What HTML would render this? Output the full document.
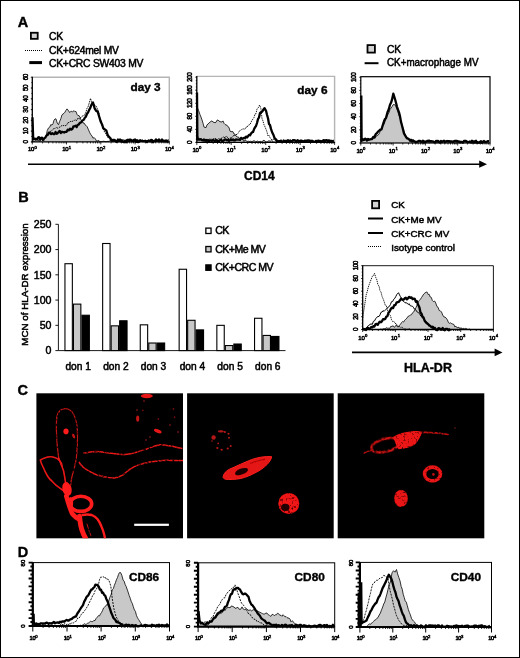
<!DOCTYPE html><html><head><meta charset="utf-8"><style>html,body{margin:0;padding:0;background:#fff;}svg{display:block;} text{stroke:#000;stroke-width:0.5px;} text[font-weight="bold"]{stroke-width:0.38px;}</style></head><body><svg width="520" height="658" viewBox="0 0 520 658" font-family="'Liberation Sans', Arial, sans-serif">
<rect x="0" y="0" width="520" height="658" fill="#fff"/>
<rect x="0.5" y="0.5" width="519" height="657" fill="none" stroke="#000" stroke-width="1"/>
<text x="17.7" y="27.4" font-size="14.5" font-weight="bold">A</text>
<text x="18.3" y="202" font-size="14.5" font-weight="bold">B</text>
<text x="17.4" y="395" font-size="14.5" font-weight="bold">C</text>
<text x="17.8" y="557.3" font-size="14.5" font-weight="bold">D</text>
<rect x="30.9" y="32.75" width="6.8" height="6.1" fill="#d2d2d2" stroke="#000" stroke-width="1.8"/>
<line x1="25" y1="50.5" x2="43" y2="50.5" stroke="#000" stroke-width="1" stroke-dasharray="1,1"/>
<line x1="29.3" y1="62.6" x2="42" y2="62.6" stroke="#000" stroke-width="3"/>
<text x="49" y="40.4" font-size="10.3" letter-spacing="-0.22">CK</text>
<text x="49" y="53.6" font-size="10.3" letter-spacing="-0.22">CK+624mel MV</text>
<text x="49" y="67.2" font-size="10.3" letter-spacing="-0.22">CK+CRC SW403 MV</text>
<rect x="367.5" y="45.1" width="7.4" height="7.5" fill="#d2d2d2" stroke="#000" stroke-width="1.8"/>
<line x1="364.6" y1="63.2" x2="378.5" y2="63.2" stroke="#000" stroke-width="2"/>
<text x="387" y="52.5" font-size="10.3" letter-spacing="-0.3">CK</text>
<text x="387" y="66.2" font-size="10.3" textLength="91.5" lengthAdjust="spacingAndGlyphs">CK+macrophage MV</text>
<polygon points="32.8,141.9 32.8,140.1 33.9,141.6 34.9,141.0 36.0,139.4 37.0,140.1 38.0,140.1 39.0,140.8 40.0,141.2 41.3,139.2 42.5,138.7 43.8,140.5 44.9,137.6 46.0,136.7 47.2,130.7 48.5,127.9 49.7,127.2 50.8,124.6 52.0,125.1 53.0,123.7 54.0,120.2 55.0,118.9 56.0,118.9 57.2,123.0 58.5,124.7 59.7,121.3 60.8,118.8 62.0,114.8 63.0,114.0 64.0,113.3 65.0,112.1 66.0,110.2 67.0,108.9 68.0,110.0 69.0,111.8 70.0,112.5 71.3,110.9 72.5,112.2 73.8,110.6 74.9,111.7 75.9,111.4 77.0,114.3 78.0,115.7 79.0,115.5 80.0,117.4 81.0,119.8 82.0,121.2 83.0,123.1 84.0,122.8 85.0,124.8 86.0,125.4 87.2,126.8 88.5,129.8 89.8,132.8 91.0,134.9 92.0,136.0 93.0,138.2 94.2,137.6 95.3,138.8 96.5,141.0 97.7,140.8 98.8,140.4 100.0,141.6 101.0,141.6 102.0,141.6 103.0,141.2 104.0,141.3 105.0,141.5 106.0,141.6 107.0,141.6 108.0,141.2 109.0,141.5 110.0,140.3 111.0,140.3 112.0,141.6 113.0,141.6 114.0,141.6 115.0,141.2 116.0,140.7 117.0,141.5 118.0,141.6 119.0,141.6 120.0,141.6 121.0,141.6 122.0,140.8 123.0,141.5 124.0,141.6 125.0,141.6 126.0,141.4 127.0,140.9 128.0,141.6 129.0,141.6 130.0,140.2 131.0,141.6 132.0,141.6 133.0,141.6 134.0,141.6 135.0,141.6 136.0,141.5 137.0,141.6 138.0,141.3 139.0,140.4 140.0,141.6 141.0,141.6 142.0,140.7 143.0,141.5 144.0,141.5 145.0,141.1 146.0,141.1 147.0,141.6 148.0,141.6 149.0,141.6 150.0,141.4 151.0,140.3 152.0,140.8 153.0,140.7 154.0,141.6 155.0,141.6 156.0,141.6 157.0,141.6 158.0,141.6 159.0,140.9 160.0,141.6 161.0,141.6 162.0,140.4 163.0,140.3 164.0,140.3 165.0,141.6 166.0,140.9 167.0,140.5 168.0,141.6 169.0,141.1 169.0,141.9" fill="#c8c8c8" stroke="none"/>
<polyline points="32.8,140.1 33.9,141.6 34.9,141.0 36.0,139.4 37.0,140.1 38.0,140.1 39.0,140.8 40.0,141.2 41.3,139.2 42.5,138.7 43.8,140.5 44.9,137.6 46.0,136.7 47.2,130.7 48.5,127.9 49.7,127.2 50.8,124.6 52.0,125.1 53.0,123.7 54.0,120.2 55.0,118.9 56.0,118.9 57.2,123.0 58.5,124.7 59.7,121.3 60.8,118.8 62.0,114.8 63.0,114.0 64.0,113.3 65.0,112.1 66.0,110.2 67.0,108.9 68.0,110.0 69.0,111.8 70.0,112.5 71.3,110.9 72.5,112.2 73.8,110.6 74.9,111.7 75.9,111.4 77.0,114.3 78.0,115.7 79.0,115.5 80.0,117.4 81.0,119.8 82.0,121.2 83.0,123.1 84.0,122.8 85.0,124.8 86.0,125.4 87.2,126.8 88.5,129.8 89.8,132.8 91.0,134.9 92.0,136.0 93.0,138.2 94.2,137.6 95.3,138.8 96.5,141.0 97.7,140.8 98.8,140.4 100.0,141.6 101.0,141.6 102.0,141.6 103.0,141.2 104.0,141.3 105.0,141.5 106.0,141.6 107.0,141.6 108.0,141.2 109.0,141.5 110.0,140.3 111.0,140.3 112.0,141.6 113.0,141.6 114.0,141.6 115.0,141.2 116.0,140.7 117.0,141.5 118.0,141.6 119.0,141.6 120.0,141.6 121.0,141.6 122.0,140.8 123.0,141.5 124.0,141.6 125.0,141.6 126.0,141.4 127.0,140.9 128.0,141.6 129.0,141.6 130.0,140.2 131.0,141.6 132.0,141.6 133.0,141.6 134.0,141.6 135.0,141.6 136.0,141.5 137.0,141.6 138.0,141.3 139.0,140.4 140.0,141.6 141.0,141.6 142.0,140.7 143.0,141.5 144.0,141.5 145.0,141.1 146.0,141.1 147.0,141.6 148.0,141.6 149.0,141.6 150.0,141.4 151.0,140.3 152.0,140.8 153.0,140.7 154.0,141.6 155.0,141.6 156.0,141.6 157.0,141.6 158.0,141.6 159.0,140.9 160.0,141.6 161.0,141.6 162.0,140.4 163.0,140.3 164.0,140.3 165.0,141.6 166.0,140.9 167.0,140.5 168.0,141.6 169.0,141.1" fill="none" stroke="#111" stroke-width="0.85"/>
<polyline points="32.8,126.0 33.5,140.0 34.8,138.3 36.0,138.6 37.0,139.9 38.0,139.3 39.0,138.8 40.0,137.6 41.0,138.5 42.0,138.7 43.0,138.9 44.0,138.2 45.0,137.3 46.0,135.8 47.0,134.5 48.0,133.1 49.0,132.8 50.0,131.6 51.0,131.1 52.0,130.5 53.0,129.2 54.0,128.4 55.0,128.7 56.0,127.6 57.0,127.5 58.0,128.4 59.0,127.3 60.0,127.1 61.0,126.2 62.0,125.4 63.0,125.9 64.0,125.2 65.0,125.4 66.0,125.8 67.0,124.4 68.0,122.3 69.0,122.9 70.0,121.7 71.0,121.3 72.0,121.5 73.0,121.0 74.0,120.8 75.0,119.7 76.0,120.7 77.0,120.2 78.0,118.0 79.0,119.0 80.0,118.5 81.0,117.1 82.0,116.5 83.0,115.6 84.0,115.8 85.0,114.0 86.0,112.1 87.0,108.3 88.0,106.9 89.2,103.1 90.5,98.4 92.0,103.2 93.0,104.6 94.0,104.8 95.0,105.0 96.0,106.0 97.0,107.9 98.0,110.4 99.0,113.3 100.0,118.9 101.0,121.0 102.0,125.9 103.0,127.1 104.0,131.0 105.0,132.5 106.0,134.0 107.0,136.0 108.0,137.5 109.0,138.5 110.0,139.1 111.0,139.0 112.0,139.9 113.0,141.1 114.0,140.6 115.0,139.5 116.0,141.2 117.0,141.0 118.0,141.4 119.0,139.8 120.0,141.1 121.0,139.5 122.0,140.9 123.0,140.0 124.0,139.9 125.0,141.4 126.0,139.7 127.0,140.6 128.0,141.4 129.0,140.0 130.0,139.9 131.0,141.4 132.0,140.4 133.0,141.1 134.0,139.6 135.0,140.3 136.0,139.9 137.0,141.0 138.0,139.7 139.0,141.7 140.0,139.6 141.0,141.2 142.0,139.6 143.0,140.1 144.0,141.4 145.0,139.9 146.0,140.0 147.0,141.1 148.0,140.4 149.0,139.7 150.0,141.8 151.0,139.9 152.0,139.7 153.0,140.4 154.0,141.0 155.0,141.3 156.0,139.9 157.0,140.4 158.0,139.7 159.0,140.6 160.0,141.3 161.0,141.3 162.0,141.7 163.0,141.3 164.0,141.6 165.0,141.2 166.0,140.7 167.0,140.2 168.0,141.2 169.0,140.4" fill="none" stroke="#000" stroke-width="0.9" stroke-linejoin="round" stroke-dasharray="1.6,0.8"/>
<polyline points="32.5,117.2 33.2,139.1 34.6,138.6 36.0,139.3 37.0,139.2 38.0,137.5 39.0,137.2 40.0,139.5 41.0,137.8 42.0,137.7 43.0,139.9 44.0,138.4 45.4,137.5 46.5,135.5 47.7,135.0 48.9,132.6 50.0,133.1 51.1,134.0 52.3,133.2 53.5,134.0 54.6,134.0 55.6,132.0 56.7,133.7 57.7,133.0 58.7,131.9 59.8,130.9 60.8,133.1 62.0,131.7 63.1,132.2 64.2,132.5 65.4,131.8 66.6,131.8 67.7,129.7 68.8,130.3 70.0,128.6 71.2,129.7 72.3,129.1 73.4,126.5 74.6,126.3 75.6,125.7 76.7,127.1 77.7,124.8 78.7,124.6 79.8,122.9 80.8,122.7 81.8,121.3 82.8,120.2 83.8,119.8 84.8,117.8 85.9,116.7 86.9,114.0 88.1,112.4 89.2,109.8 90.3,107.9 91.5,104.7 93.0,102.5 94.6,108.3 96.2,110.9 97.7,111.6 99.2,116.7 100.8,121.8 102.3,125.0 103.3,128.3 104.4,129.1 105.4,129.8 106.4,130.7 107.5,134.5 108.5,136.4 110.3,138.0 111.5,140.6 112.8,140.0 114.0,139.8 115.0,140.2 116.0,141.6 117.0,141.9 118.0,139.5 119.0,141.1 120.0,139.5 121.0,141.4 122.0,140.3 123.0,141.9 124.0,142.2 125.0,140.8 126.0,142.2 127.0,140.3 128.0,139.6 129.0,141.1 130.0,139.5 131.0,139.9 132.0,140.5 133.0,141.1 134.0,139.8 135.0,139.5 136.0,141.9 137.0,140.3 138.0,142.1 139.0,141.9 140.0,140.4 141.0,140.7 142.0,140.9 143.0,141.2 144.0,141.1 145.0,141.0 146.0,141.1 147.0,142.1 148.0,140.8 149.0,140.6 150.0,141.4 151.0,140.0 152.0,140.2 153.0,142.2 154.0,140.9 155.0,140.9 156.0,139.4 157.0,140.6 158.0,141.0 159.0,139.4 160.0,141.1 161.0,141.2 162.0,139.5 163.0,141.2 164.0,140.7 165.0,141.3 166.0,140.4 167.0,141.4 168.0,141.5 169.0,139.4" fill="none" stroke="#000" stroke-width="2.3" stroke-linejoin="round"/>
<path d="M32.3,77.2H169.3V141.9" stroke="#b4b4b4" stroke-width="1.4" fill="none"/>
<path d="M32.3,76.7V141.9H169.8" stroke="#000" stroke-width="1.3" fill="none"/>
<path d="M42.6,141.9v1.5M48.6,141.9v1.5M52.9,141.9v1.5M56.2,141.9v1.5M59.0,141.9v1.5M61.2,141.9v1.5M63.2,141.9v1.5M65.0,141.9v1.5M76.9,141.9v1.5M82.9,141.9v1.5M87.2,141.9v1.5M90.5,141.9v1.5M93.2,141.9v1.5M95.5,141.9v1.5M97.5,141.9v1.5M99.2,141.9v1.5M111.1,141.9v1.5M117.1,141.9v1.5M121.4,141.9v1.5M124.7,141.9v1.5M127.5,141.9v1.5M129.7,141.9v1.5M131.7,141.9v1.5M133.5,141.9v1.5M145.4,141.9v1.5M151.4,141.9v1.5M155.7,141.9v1.5M159.0,141.9v1.5M161.7,141.9v1.5M164.0,141.9v1.5M166.0,141.9v1.5M167.7,141.9v1.5M32.3,141.9v2.5M66.5,141.9v2.5M100.8,141.9v2.5M135.1,141.9v2.5M169.3,141.9v2.5" stroke="#000" stroke-width="0.8" fill="none"/>
<text x="31.0" y="151.2" font-size="6" text-anchor="middle" letter-spacing="-0.3">10</text><text x="34.6" y="148.6" font-size="4.2">0</text>
<text x="65.2" y="151.2" font-size="6" text-anchor="middle" letter-spacing="-0.3">10</text><text x="68.8" y="148.6" font-size="4.2">1</text>
<text x="99.5" y="151.2" font-size="6" text-anchor="middle" letter-spacing="-0.3">10</text><text x="103.1" y="148.6" font-size="4.2">2</text>
<text x="133.8" y="151.2" font-size="6" text-anchor="middle" letter-spacing="-0.3">10</text><text x="137.4" y="148.6" font-size="4.2">3</text>
<text x="168.0" y="151.2" font-size="6" text-anchor="middle" letter-spacing="-0.3">10</text><text x="171.6" y="148.6" font-size="4.2">4</text>
<text transform="translate(28.2,141.9) rotate(-90)" font-size="6.4" text-anchor="middle" letter-spacing="-0.45">0</text>
<text transform="translate(28.2,131.1) rotate(-90)" font-size="6.4" text-anchor="middle" letter-spacing="-0.45">10</text>
<text transform="translate(28.2,120.3) rotate(-90)" font-size="6.4" text-anchor="middle" letter-spacing="-0.45">20</text>
<text transform="translate(28.2,109.6) rotate(-90)" font-size="6.4" text-anchor="middle" letter-spacing="-0.45">30</text>
<text transform="translate(28.2,98.8) rotate(-90)" font-size="6.4" text-anchor="middle" letter-spacing="-0.45">40</text>
<text transform="translate(28.2,88.0) rotate(-90)" font-size="6.4" text-anchor="middle" letter-spacing="-0.45">50</text>
<text transform="translate(28.2,77.2) rotate(-90)" font-size="6.4" text-anchor="middle" letter-spacing="-0.45">60</text>
<path d="M30.8,141.9h1.5M30.8,131.1h1.5M30.8,120.3h1.5M30.8,109.6h1.5M30.8,98.8h1.5M30.8,88.0h1.5M30.8,77.2h1.5M31.3,141.9h1M31.3,136.5h1M31.3,131.1h1M31.3,125.7h1M31.3,120.3h1M31.3,114.9h1M31.3,109.6h1M31.3,104.2h1M31.3,98.8h1M31.3,93.4h1M31.3,88.0h1M31.3,82.6h1" stroke="#000" stroke-width="0.8" fill="none"/>
<text x="130.5" y="91.4" font-size="11.8" font-weight="bold">day 3</text>
<polygon points="197.2,142.4 197.2,107.3 198.6,110.5 200.0,114.7 201.0,117.1 202.0,119.9 203.0,123.2 204.0,127.1 205.0,127.3 206.0,127.7 207.0,124.8 208.0,124.1 209.0,122.9 210.0,122.2 211.0,121.3 212.0,120.9 213.0,122.1 214.0,122.3 215.0,122.8 216.0,122.3 217.0,120.2 218.0,120.0 219.0,121.1 220.0,121.6 221.0,121.9 222.0,122.0 223.0,120.9 224.0,123.3 225.0,124.4 226.0,125.0 227.0,125.2 228.0,126.9 229.0,127.4 230.0,131.1 231.0,131.7 232.0,131.6 233.0,131.7 234.0,134.0 235.0,134.2 236.0,136.0 237.0,136.9 238.0,137.0 239.0,137.5 240.0,138.8 241.0,139.1 242.0,139.1 243.0,139.9 244.0,141.6 245.0,140.0 246.0,140.3 247.0,141.8 248.0,140.9 249.0,141.6 250.0,141.4 251.0,141.1 252.0,142.0 253.0,140.7 254.0,141.3 255.0,140.8 256.0,141.9 257.0,141.0 258.0,141.2 259.0,142.0 260.0,141.1 261.0,141.7 262.0,142.0 263.0,140.5 264.0,140.4 265.0,140.9 266.0,142.0 267.0,141.9 268.0,140.9 269.0,141.1 270.0,140.8 271.0,141.5 272.0,140.4 273.0,142.0 274.0,142.0 275.0,142.0 276.0,142.0 277.0,142.0 278.0,140.4 279.0,141.1 280.0,142.0 281.0,142.0 282.0,141.4 283.0,142.0 284.0,141.9 285.0,142.0 286.0,141.1 287.0,140.8 288.0,141.5 289.0,140.7 290.0,141.3 291.0,142.0 292.0,141.2 293.0,140.4 294.0,140.5 295.0,140.8 296.0,142.0 297.0,141.3 298.0,141.1 299.0,140.6 300.0,142.0 301.0,141.5 302.0,140.9 303.0,140.6 304.0,140.6 305.0,140.9 306.0,142.0 307.0,140.8 308.0,140.5 309.0,141.7 310.0,141.1 311.0,142.0 312.0,140.8 313.0,141.8 314.0,142.0 315.0,141.5 316.0,142.0 317.0,141.7 318.0,141.1 319.0,141.5 320.0,140.6 321.0,141.6 322.0,141.1 323.0,142.0 324.0,142.0 325.0,141.8 326.0,140.6 327.0,141.1 328.0,141.1 329.0,141.0 330.0,141.1 331.0,142.0 332.0,140.9 333.0,140.6 334.0,142.0 334.0,142.4" fill="#c8c8c8" stroke="none"/>
<polyline points="197.2,107.3 198.6,110.5 200.0,114.7 201.0,117.1 202.0,119.9 203.0,123.2 204.0,127.1 205.0,127.3 206.0,127.7 207.0,124.8 208.0,124.1 209.0,122.9 210.0,122.2 211.0,121.3 212.0,120.9 213.0,122.1 214.0,122.3 215.0,122.8 216.0,122.3 217.0,120.2 218.0,120.0 219.0,121.1 220.0,121.6 221.0,121.9 222.0,122.0 223.0,120.9 224.0,123.3 225.0,124.4 226.0,125.0 227.0,125.2 228.0,126.9 229.0,127.4 230.0,131.1 231.0,131.7 232.0,131.6 233.0,131.7 234.0,134.0 235.0,134.2 236.0,136.0 237.0,136.9 238.0,137.0 239.0,137.5 240.0,138.8 241.0,139.1 242.0,139.1 243.0,139.9 244.0,141.6 245.0,140.0 246.0,140.3 247.0,141.8 248.0,140.9 249.0,141.6 250.0,141.4 251.0,141.1 252.0,142.0 253.0,140.7 254.0,141.3 255.0,140.8 256.0,141.9 257.0,141.0 258.0,141.2 259.0,142.0 260.0,141.1 261.0,141.7 262.0,142.0 263.0,140.5 264.0,140.4 265.0,140.9 266.0,142.0 267.0,141.9 268.0,140.9 269.0,141.1 270.0,140.8 271.0,141.5 272.0,140.4 273.0,142.0 274.0,142.0 275.0,142.0 276.0,142.0 277.0,142.0 278.0,140.4 279.0,141.1 280.0,142.0 281.0,142.0 282.0,141.4 283.0,142.0 284.0,141.9 285.0,142.0 286.0,141.1 287.0,140.8 288.0,141.5 289.0,140.7 290.0,141.3 291.0,142.0 292.0,141.2 293.0,140.4 294.0,140.5 295.0,140.8 296.0,142.0 297.0,141.3 298.0,141.1 299.0,140.6 300.0,142.0 301.0,141.5 302.0,140.9 303.0,140.6 304.0,140.6 305.0,140.9 306.0,142.0 307.0,140.8 308.0,140.5 309.0,141.7 310.0,141.1 311.0,142.0 312.0,140.8 313.0,141.8 314.0,142.0 315.0,141.5 316.0,142.0 317.0,141.7 318.0,141.1 319.0,141.5 320.0,140.6 321.0,141.6 322.0,141.1 323.0,142.0 324.0,142.0 325.0,141.8 326.0,140.6 327.0,141.1 328.0,141.1 329.0,141.0 330.0,141.1 331.0,142.0 332.0,140.9 333.0,140.6 334.0,142.0" fill="none" stroke="#111" stroke-width="0.85"/>
<polyline points="197.2,135.3 198.6,137.5 200.0,139.7 201.0,140.0 202.0,139.6 203.0,140.1 204.0,138.1 205.0,139.2 206.0,140.3 207.0,139.7 208.0,140.3 209.0,138.6 210.0,139.4 211.0,138.9 212.0,139.5 213.0,139.5 214.0,138.2 215.0,138.6 216.0,138.7 217.0,140.1 218.0,139.7 219.0,138.3 220.0,139.7 221.0,137.9 222.0,138.6 223.0,137.2 224.0,136.6 225.0,138.2 226.0,136.3 227.0,136.6 228.0,138.6 229.0,138.6 230.0,137.5 231.0,138.4 232.0,136.9 233.0,136.6 234.0,134.9 235.0,136.0 236.0,134.6 237.0,134.4 238.0,133.5 239.0,131.3 240.0,130.7 241.0,129.9 242.0,129.4 243.0,128.8 244.0,129.0 245.0,129.2 246.0,126.9 247.0,127.4 248.0,125.6 249.0,124.6 250.0,124.7 251.0,122.3 252.0,120.3 253.0,119.0 254.0,117.5 255.0,114.0 256.0,113.6 257.0,108.9 258.3,107.7 259.6,105.0 261.0,108.9 262.0,118.6 263.0,121.0 264.0,124.8 265.0,126.9 266.0,129.3 267.0,132.0 268.0,136.0 269.0,135.3 270.0,137.6 271.0,139.0 272.0,140.0 273.0,139.0 274.0,139.4 275.0,140.2 276.0,141.1 277.0,139.6 278.0,141.1 279.0,141.2 280.0,141.3 281.0,139.5 282.0,141.6 283.0,139.6 284.0,140.2 285.0,140.8 286.0,141.5 287.0,140.2 288.0,141.6 289.0,140.7 290.0,140.2 291.0,140.2 292.0,139.9 293.0,139.7 294.0,139.9 295.0,141.1 296.0,141.8 297.0,139.9 298.0,139.7 299.0,141.8 300.0,140.8 301.0,140.5 302.0,140.1 303.0,140.9 304.0,141.5 305.0,140.7 306.0,140.6 307.0,139.8 308.0,141.7 309.0,139.7 310.0,140.8 311.0,141.6 312.0,140.0 313.0,141.3 314.0,141.8 315.0,141.1 316.0,141.5 317.0,140.0 318.0,140.7 319.0,140.1 320.0,141.7 321.0,140.4 322.0,140.8 323.0,142.0 324.0,141.7 325.0,142.0 326.0,140.8 327.0,140.9 328.0,141.5 329.0,140.9 330.0,140.5 331.0,140.8 332.0,140.2 333.0,140.7 334.0,142.1" fill="none" stroke="#000" stroke-width="0.9" stroke-linejoin="round" stroke-dasharray="1.4,0.9"/>
<polyline points="197.0,92.6 197.4,139.6 198.7,139.5 200.0,139.5 201.0,139.1 202.0,140.4 203.0,140.1 204.0,140.7 205.0,140.0 206.0,140.8 207.0,139.9 208.0,141.0 209.0,140.9 210.0,140.3 211.0,140.6 212.0,140.8 213.0,139.9 214.0,140.6 215.0,141.1 216.0,140.0 217.0,141.1 218.0,140.9 219.0,141.2 220.0,140.2 221.0,139.7 222.0,141.0 223.0,140.9 224.0,140.2 225.0,139.5 226.0,139.6 227.0,140.4 228.0,139.7 229.0,140.9 230.0,140.2 231.0,139.3 232.0,140.1 233.0,139.4 234.0,140.4 235.0,140.3 236.0,139.4 237.0,139.6 238.0,139.6 239.0,139.7 240.0,139.9 241.0,137.9 242.0,138.3 243.0,138.6 244.0,137.8 245.0,138.2 246.0,136.6 247.0,137.5 248.0,136.2 249.0,134.9 250.0,135.3 251.0,133.6 252.0,132.4 253.0,132.0 254.0,129.3 255.0,127.4 256.0,126.0 257.0,123.0 258.0,119.1 259.0,117.5 260.0,113.1 261.0,112.2 262.0,111.8 263.2,110.0 264.5,108.1 266.0,110.8 267.0,114.8 268.0,118.3 269.0,124.0 270.0,125.1 271.0,128.9 272.2,132.5 273.4,134.8 274.7,138.4 276.0,139.5 277.0,141.2 278.0,141.3 279.0,141.1 280.0,141.7 281.0,140.9 282.0,141.6 283.0,141.6 284.0,141.0 285.0,140.9 286.0,141.4 287.0,140.8 288.0,140.2 289.0,141.5 290.0,140.6 291.0,141.0 292.0,141.5 293.0,140.4 294.0,140.1 295.0,140.3 296.0,141.2 297.0,140.7 298.0,140.5 299.0,140.9 300.0,141.8 301.0,140.5 302.0,140.8 303.0,141.7 304.0,141.2 305.0,140.6 306.0,141.0 307.0,141.0 308.0,140.3 309.0,140.8 310.0,140.6 311.0,141.6 312.0,140.7 313.0,141.3 314.0,141.9 315.0,141.8 316.0,140.8 317.0,141.2 318.0,140.7 319.0,140.8 320.0,141.0 321.0,141.6 322.0,141.8 323.0,140.6 324.0,140.1 325.0,140.9 326.0,140.1 327.0,140.1 328.0,141.5 329.0,140.3 330.0,141.4 331.0,140.7 332.0,141.8 333.0,141.7 334.0,140.2" fill="none" stroke="#000" stroke-width="2.3" stroke-linejoin="round"/>
<path d="M196.8,76.4H334.6V142.4" stroke="#b4b4b4" stroke-width="1.4" fill="none"/>
<path d="M196.8,75.9V142.4H335.1" stroke="#000" stroke-width="1.3" fill="none"/>
<path d="M207.2,142.4v1.5M213.2,142.4v1.5M217.5,142.4v1.5M220.9,142.4v1.5M223.6,142.4v1.5M225.9,142.4v1.5M227.9,142.4v1.5M229.7,142.4v1.5M241.6,142.4v1.5M247.7,142.4v1.5M252.0,142.4v1.5M255.3,142.4v1.5M258.1,142.4v1.5M260.4,142.4v1.5M262.4,142.4v1.5M264.1,142.4v1.5M276.1,142.4v1.5M282.1,142.4v1.5M286.4,142.4v1.5M289.8,142.4v1.5M292.5,142.4v1.5M294.8,142.4v1.5M296.8,142.4v1.5M298.6,142.4v1.5M310.5,142.4v1.5M316.6,142.4v1.5M320.9,142.4v1.5M324.2,142.4v1.5M327.0,142.4v1.5M329.3,142.4v1.5M331.3,142.4v1.5M333.0,142.4v1.5M196.8,142.4v2.5M231.2,142.4v2.5M265.7,142.4v2.5M300.2,142.4v2.5M334.6,142.4v2.5" stroke="#000" stroke-width="0.8" fill="none"/>
<text x="195.5" y="151.6" font-size="6" text-anchor="middle" letter-spacing="-0.3">10</text><text x="199.1" y="149.0" font-size="4.2">0</text>
<text x="229.9" y="151.6" font-size="6" text-anchor="middle" letter-spacing="-0.3">10</text><text x="233.6" y="149.0" font-size="4.2">1</text>
<text x="264.4" y="151.6" font-size="6" text-anchor="middle" letter-spacing="-0.3">10</text><text x="268.0" y="149.0" font-size="4.2">2</text>
<text x="298.9" y="151.6" font-size="6" text-anchor="middle" letter-spacing="-0.3">10</text><text x="302.5" y="149.0" font-size="4.2">3</text>
<text x="333.3" y="151.6" font-size="6" text-anchor="middle" letter-spacing="-0.3">10</text><text x="336.9" y="149.0" font-size="4.2">4</text>
<text transform="translate(192.2,142.4) rotate(-90)" font-size="6.4" text-anchor="middle" letter-spacing="-0.45">0</text>
<text transform="translate(192.2,129.4) rotate(-90)" font-size="6.4" text-anchor="middle" letter-spacing="-0.45">40</text>
<text transform="translate(192.2,116.3) rotate(-90)" font-size="6.4" text-anchor="middle" letter-spacing="-0.45">80</text>
<text transform="translate(192.2,103.3) rotate(-90)" font-size="6.4" text-anchor="middle" letter-spacing="-0.45">120</text>
<text transform="translate(192.2,90.2) rotate(-90)" font-size="6.4" text-anchor="middle" letter-spacing="-0.45">160</text>
<text transform="translate(192.2,77.2) rotate(-90)" font-size="6.4" text-anchor="middle" letter-spacing="-0.45">200</text>
<path d="M195.3,142.4h1.5M195.3,129.4h1.5M195.3,116.3h1.5M195.3,103.3h1.5M195.3,90.2h1.5M195.3,77.2h1.5M195.8,142.4h1M195.8,139.1h1M195.8,135.9h1M195.8,132.6h1M195.8,129.4h1M195.8,126.1h1M195.8,122.8h1M195.8,119.6h1M195.8,116.3h1M195.8,113.1h1M195.8,109.8h1M195.8,106.5h1M195.8,103.3h1M195.8,100.0h1M195.8,96.8h1M195.8,93.5h1M195.8,90.2h1M195.8,87.0h1M195.8,83.7h1M195.8,80.5h1" stroke="#000" stroke-width="0.8" fill="none"/>
<text x="297.3" y="93.6" font-size="11.8" font-weight="bold">day 6</text>
<polygon points="361.5,143.0 361.5,139.7 362.6,139.4 363.6,140.2 364.7,139.3 365.8,140.1 366.8,139.8 367.9,139.3 368.9,140.0 370.0,139.3 371.0,139.5 372.0,138.5 373.0,138.1 374.0,138.3 375.0,138.5 376.0,136.4 377.0,135.6 378.0,135.2 379.0,134.0 380.0,131.8 381.0,129.8 382.0,128.8 383.0,125.3 384.0,124.6 385.0,121.3 386.0,118.8 387.0,116.4 388.0,114.2 389.0,112.5 390.0,109.5 391.0,108.1 392.0,106.7 393.0,104.8 394.0,104.5 395.5,105.3 397.0,109.3 398.0,112.2 399.0,115.6 400.0,117.9 401.0,121.2 402.0,125.1 403.0,128.4 404.0,131.7 405.0,134.5 406.0,136.3 407.0,137.1 408.0,139.1 409.0,139.5 410.0,140.6 411.0,140.9 412.0,140.7 413.0,141.9 414.0,140.6 415.0,141.2 416.0,141.9 417.0,141.1 418.0,141.7 419.0,141.1 420.0,142.3 421.0,142.4 422.0,142.1 423.0,142.6 424.0,141.7 425.0,142.3 426.0,142.2 427.0,142.2 428.0,142.0 429.0,142.6 430.0,142.8 431.0,142.0 432.0,142.3 433.0,141.4 434.0,142.4 435.0,142.3 436.0,142.8 437.0,142.6 438.0,141.8 439.0,142.0 440.0,142.4 441.0,141.4 442.0,142.1 443.0,141.6 444.0,141.6 445.0,141.5 446.0,142.6 447.0,141.6 448.0,141.8 449.0,142.0 450.0,142.8 451.0,141.6 452.0,142.2 453.0,142.3 454.0,142.8 455.0,142.8 456.0,142.8 457.0,141.9 458.0,142.1 459.0,142.1 460.0,142.8 461.0,142.8 462.0,141.7 463.0,141.8 464.0,141.9 465.0,141.9 466.0,142.3 467.0,142.5 468.0,142.0 469.0,141.6 470.0,142.2 471.0,142.2 472.0,142.5 473.0,142.8 474.0,142.7 475.0,142.4 476.0,142.6 477.0,142.7 478.0,141.7 479.0,142.8 480.0,142.8 481.0,142.8 482.0,142.8 483.0,142.3 484.0,142.3 485.0,141.8 486.0,142.7 487.0,141.8 488.0,141.8 489.0,142.0 489.0,143.0" fill="#c8c8c8" stroke="none"/>
<polyline points="361.5,139.7 362.6,139.4 363.6,140.2 364.7,139.3 365.8,140.1 366.8,139.8 367.9,139.3 368.9,140.0 370.0,139.3 371.0,139.5 372.0,138.5 373.0,138.1 374.0,138.3 375.0,138.5 376.0,136.4 377.0,135.6 378.0,135.2 379.0,134.0 380.0,131.8 381.0,129.8 382.0,128.8 383.0,125.3 384.0,124.6 385.0,121.3 386.0,118.8 387.0,116.4 388.0,114.2 389.0,112.5 390.0,109.5 391.0,108.1 392.0,106.7 393.0,104.8 394.0,104.5 395.5,105.3 397.0,109.3 398.0,112.2 399.0,115.6 400.0,117.9 401.0,121.2 402.0,125.1 403.0,128.4 404.0,131.7 405.0,134.5 406.0,136.3 407.0,137.1 408.0,139.1 409.0,139.5 410.0,140.6 411.0,140.9 412.0,140.7 413.0,141.9 414.0,140.6 415.0,141.2 416.0,141.9 417.0,141.1 418.0,141.7 419.0,141.1 420.0,142.3 421.0,142.4 422.0,142.1 423.0,142.6 424.0,141.7 425.0,142.3 426.0,142.2 427.0,142.2 428.0,142.0 429.0,142.6 430.0,142.8 431.0,142.0 432.0,142.3 433.0,141.4 434.0,142.4 435.0,142.3 436.0,142.8 437.0,142.6 438.0,141.8 439.0,142.0 440.0,142.4 441.0,141.4 442.0,142.1 443.0,141.6 444.0,141.6 445.0,141.5 446.0,142.6 447.0,141.6 448.0,141.8 449.0,142.0 450.0,142.8 451.0,141.6 452.0,142.2 453.0,142.3 454.0,142.8 455.0,142.8 456.0,142.8 457.0,141.9 458.0,142.1 459.0,142.1 460.0,142.8 461.0,142.8 462.0,141.7 463.0,141.8 464.0,141.9 465.0,141.9 466.0,142.3 467.0,142.5 468.0,142.0 469.0,141.6 470.0,142.2 471.0,142.2 472.0,142.5 473.0,142.8 474.0,142.7 475.0,142.4 476.0,142.6 477.0,142.7 478.0,141.7 479.0,142.8 480.0,142.8 481.0,142.8 482.0,142.8 483.0,142.3 484.0,142.3 485.0,141.8 486.0,142.7 487.0,141.8 488.0,141.8 489.0,142.0" fill="none" stroke="#111" stroke-width="0.85"/>
<polyline points="361.3,95.5 361.6,140.9 362.7,139.1 363.9,140.1 365.0,138.7 366.0,139.0 367.0,140.5 368.0,138.9 369.0,139.8 370.0,139.4 371.0,139.2 372.0,139.0 373.3,137.0 374.6,136.8 375.7,134.2 376.9,133.2 378.0,131.6 379.2,130.7 380.3,129.7 381.5,129.3 382.8,125.0 384.0,121.3 385.0,119.0 386.0,117.9 387.5,112.2 388.8,109.2 390.0,104.8 391.0,102.8 392.0,99.7 393.3,93.7 395.0,99.0 396.0,102.8 397.0,106.8 398.0,109.7 399.0,112.3 400.0,116.2 401.0,121.9 402.0,125.5 403.0,129.4 404.0,133.4 405.0,135.2 406.0,136.8 407.0,138.4 408.0,138.6 409.0,139.2 410.0,140.7 411.0,139.8 412.0,141.5 413.0,140.3 414.0,141.5 415.0,141.6 416.0,142.1 417.0,142.0 418.0,141.4 419.0,140.9 420.0,140.8 421.0,141.6 422.0,141.5 423.0,140.7 424.0,142.3 425.0,141.5 426.0,141.9 427.0,141.0 428.0,141.0 429.0,140.6 430.0,141.2 431.0,141.1 432.0,141.4 433.0,141.3 434.0,142.2 435.0,142.3 436.0,140.9 437.0,141.4 438.0,140.9 439.0,141.9 440.0,142.5 441.0,141.0 442.0,142.1 443.0,141.2 444.0,140.7 445.0,142.1 446.0,141.3 447.0,141.0 448.0,141.5 449.0,141.1 450.0,141.5 451.0,141.5 452.0,141.5 453.0,141.8 454.0,141.2 455.0,140.9 456.0,140.9 457.0,140.9 458.0,141.7 459.0,141.4 460.0,142.3 461.0,141.7 462.0,142.1 463.0,142.6 464.0,140.9 465.0,140.8 466.0,141.0 467.0,141.5 468.0,141.9 469.0,142.2 470.0,141.4 471.0,142.6 472.0,140.8 473.0,142.4 474.0,141.2 475.0,142.5 476.0,140.8 477.0,142.6 478.0,142.3 479.0,142.7 480.0,141.9 481.0,141.1 482.0,142.7 483.0,141.7 484.0,141.0 485.0,142.0 486.0,141.8 487.0,141.7 488.0,141.1 489.0,141.1" fill="none" stroke="#000" stroke-width="2.3" stroke-linejoin="round"/>
<rect x="360.8" y="76.7" width="129.2" height="66.3" fill="none" stroke="#000" stroke-width="1.2"/>
<path d="M370.5,143v1.5M376.2,143v1.5M380.2,143v1.5M383.4,143v1.5M385.9,143v1.5M388.1,143v1.5M390.0,143v1.5M391.6,143v1.5M402.8,143v1.5M408.5,143v1.5M412.5,143v1.5M415.7,143v1.5M418.2,143v1.5M420.4,143v1.5M422.3,143v1.5M423.9,143v1.5M435.1,143v1.5M440.8,143v1.5M444.8,143v1.5M448.0,143v1.5M450.5,143v1.5M452.7,143v1.5M454.6,143v1.5M456.2,143v1.5M467.4,143v1.5M473.1,143v1.5M477.1,143v1.5M480.3,143v1.5M482.8,143v1.5M485.0,143v1.5M486.9,143v1.5M488.5,143v1.5M360.8,143v2.5M393.1,143v2.5M425.4,143v2.5M457.7,143v2.5M490.0,143v2.5" stroke="#000" stroke-width="0.8" fill="none"/>
<text x="359.5" y="152.5" font-size="6" text-anchor="middle" letter-spacing="-0.3">10</text><text x="363.1" y="149.9" font-size="4.2">0</text>
<text x="391.8" y="152.5" font-size="6" text-anchor="middle" letter-spacing="-0.3">10</text><text x="395.4" y="149.9" font-size="4.2">1</text>
<text x="424.1" y="152.5" font-size="6" text-anchor="middle" letter-spacing="-0.3">10</text><text x="427.7" y="149.9" font-size="4.2">2</text>
<text x="456.4" y="152.5" font-size="6" text-anchor="middle" letter-spacing="-0.3">10</text><text x="460.0" y="149.9" font-size="4.2">3</text>
<text x="488.7" y="152.5" font-size="6" text-anchor="middle" letter-spacing="-0.3">10</text><text x="492.3" y="149.9" font-size="4.2">4</text>
<text transform="translate(356.4,143.0) rotate(-90)" font-size="6.4" text-anchor="middle" letter-spacing="-0.45">0</text>
<text transform="translate(356.4,129.9) rotate(-90)" font-size="6.4" text-anchor="middle" letter-spacing="-0.45">20</text>
<text transform="translate(356.4,116.7) rotate(-90)" font-size="6.4" text-anchor="middle" letter-spacing="-0.45">40</text>
<text transform="translate(356.4,103.6) rotate(-90)" font-size="6.4" text-anchor="middle" letter-spacing="-0.45">60</text>
<text transform="translate(356.4,90.4) rotate(-90)" font-size="6.4" text-anchor="middle" letter-spacing="-0.45">80</text>
<text transform="translate(356.4,77.3) rotate(-90)" font-size="6.4" text-anchor="middle" letter-spacing="-0.45">100</text>
<path d="M359.3,143.0h1.5M359.3,129.9h1.5M359.3,116.7h1.5M359.3,103.6h1.5M359.3,90.4h1.5M359.3,77.3h1.5M359.8,143.0h1M359.8,139.7h1M359.8,136.4h1M359.8,133.1h1M359.8,129.9h1M359.8,126.6h1M359.8,123.3h1M359.8,120.0h1M359.8,116.7h1M359.8,113.4h1M359.8,110.2h1M359.8,106.9h1M359.8,103.6h1M359.8,100.3h1M359.8,97.0h1M359.8,93.7h1M359.8,90.4h1M359.8,87.2h1M359.8,83.9h1M359.8,80.6h1" stroke="#000" stroke-width="0.8" fill="none"/>
<line x1="28" y1="164.2" x2="481" y2="164.2" stroke="#000" stroke-width="1.6"/>
<polygon points="479.2,160.6 487,164.2 479.2,167.8" fill="#000"/>
<text x="244" y="179.8" font-size="12" font-weight="bold">CD14</text>
<path d="M58.4,224.3V350.6H285.5" stroke="#000" stroke-width="0.9" fill="none"/>
<path d="M55.4,350.60h3M55.4,325.34h3M55.4,300.08h3M55.4,274.82h3M55.4,249.56h3M55.4,224.30h3" stroke="#000" stroke-width="0.9"/>
<text x="51.5" y="354.4" font-size="10.6" text-anchor="end">0</text>
<text x="51.5" y="329.1" font-size="10.6" text-anchor="end">50</text>
<text x="51.5" y="303.9" font-size="10.6" text-anchor="end">100</text>
<text x="51.5" y="278.6" font-size="10.6" text-anchor="end">150</text>
<text x="51.5" y="253.4" font-size="10.6" text-anchor="end">200</text>
<text x="51.5" y="228.1" font-size="10.6" text-anchor="end">250</text>
<text transform="translate(27.8,284.5) rotate(-90)" font-size="9.8" text-anchor="middle">MCN of HLA-DR expression</text>
<rect x="64.95" y="263.71" width="7.40" height="86.89" fill="#fff" stroke="#000" stroke-width="1.1"/>
<rect x="73.45" y="304.12" width="7.40" height="46.48" fill="#c8c8c8" stroke="#000" stroke-width="1.1"/>
<rect x="81.95" y="315.24" width="7.40" height="35.36" fill="#000" stroke="#000" stroke-width="1.1"/>
<text x="78.2" y="369.6" font-size="10.2" text-anchor="middle">don 1</text>
<rect x="102.65" y="243.50" width="7.40" height="107.10" fill="#fff" stroke="#000" stroke-width="1.1"/>
<rect x="111.15" y="325.85" width="7.40" height="24.75" fill="#c8c8c8" stroke="#000" stroke-width="1.1"/>
<rect x="119.65" y="320.79" width="7.40" height="29.81" fill="#000" stroke="#000" stroke-width="1.1"/>
<text x="115.9" y="369.6" font-size="10.2" text-anchor="middle">don 2</text>
<rect x="140.25" y="324.83" width="7.40" height="25.77" fill="#fff" stroke="#000" stroke-width="1.1"/>
<rect x="148.75" y="343.02" width="7.40" height="7.58" fill="#c8c8c8" stroke="#000" stroke-width="1.1"/>
<rect x="157.25" y="343.02" width="7.40" height="7.58" fill="#000" stroke="#000" stroke-width="1.1"/>
<text x="153.5" y="369.6" font-size="10.2" text-anchor="middle">don 3</text>
<rect x="179.15" y="269.26" width="7.40" height="81.34" fill="#fff" stroke="#000" stroke-width="1.1"/>
<rect x="187.65" y="320.29" width="7.40" height="30.31" fill="#c8c8c8" stroke="#000" stroke-width="1.1"/>
<rect x="196.15" y="329.89" width="7.40" height="20.71" fill="#000" stroke="#000" stroke-width="1.1"/>
<text x="192.4" y="369.6" font-size="10.2" text-anchor="middle">don 4</text>
<rect x="216.85" y="325.34" width="7.40" height="25.26" fill="#fff" stroke="#000" stroke-width="1.1"/>
<rect x="225.35" y="345.55" width="7.40" height="5.05" fill="#c8c8c8" stroke="#000" stroke-width="1.1"/>
<rect x="233.85" y="344.03" width="7.40" height="6.57" fill="#000" stroke="#000" stroke-width="1.1"/>
<text x="230.1" y="369.6" font-size="10.2" text-anchor="middle">don 5</text>
<rect x="254.55" y="318.27" width="7.40" height="32.33" fill="#fff" stroke="#000" stroke-width="1.1"/>
<rect x="263.05" y="335.44" width="7.40" height="15.16" fill="#c8c8c8" stroke="#000" stroke-width="1.1"/>
<rect x="271.55" y="336.45" width="7.40" height="14.15" fill="#000" stroke="#000" stroke-width="1.1"/>
<text x="267.8" y="369.6" font-size="10.2" text-anchor="middle">don 6</text>
<rect x="205.85" y="228.1" width="5.2" height="5.4" fill="#fff" stroke="#000" stroke-width="1.3"/>
<text x="215.2" y="234.4" font-size="10.6" letter-spacing="-0.55">CK</text>
<rect x="205.85" y="246.5" width="5.2" height="5.4" fill="#c8c8c8" stroke="#000" stroke-width="1.3"/>
<text x="215.2" y="252.8" font-size="10.6" letter-spacing="-0.55">CK+Me MV</text>
<rect x="205.85" y="264.9" width="5.2" height="5.4" fill="#000" stroke="#000" stroke-width="1.3"/>
<text x="215.2" y="271.2" font-size="10.6" letter-spacing="-0.55">CK+CRC MV</text>
<rect x="372.1" y="200.9" width="7" height="7.4" fill="#d2d2d2" stroke="#000" stroke-width="1.8"/>
<line x1="368" y1="218.5" x2="383" y2="218.5" stroke="#000" stroke-width="2"/>
<line x1="368" y1="233" x2="383" y2="233" stroke="#000" stroke-width="2"/>
<line x1="368" y1="246.5" x2="382" y2="246.5" stroke="#000" stroke-width="1" stroke-dasharray="1,1"/>
<text x="391.2" y="207.6" font-size="9.8">CK</text>
<text x="391.2" y="222.5" font-size="9.8">CK+Me MV</text>
<text x="391.2" y="236.9" font-size="9.8">CK+CRC MV</text>
<text x="391.2" y="250.8" font-size="9.8">Isotype control</text>
<polygon points="380.0,329.5 380.0,329.1 381.0,329.2 382.1,329.4 383.1,328.8 384.1,328.8 385.2,328.8 386.2,327.7 387.4,328.2 388.5,328.2 389.7,328.4 390.8,326.3 392.0,326.5 393.1,325.7 394.2,327.3 395.2,326.7 396.3,324.8 397.4,326.9 398.5,326.6 399.5,325.1 400.5,324.4 401.6,322.5 402.6,321.5 403.6,322.1 404.6,320.3 405.8,319.3 406.9,318.1 408.1,316.3 409.2,316.1 410.4,314.9 411.5,314.7 412.6,312.7 413.8,311.9 414.8,309.5 415.9,307.8 416.9,305.3 418.1,301.7 419.4,300.5 420.4,299.2 421.5,297.6 422.5,296.0 423.7,294.1 425.0,292.9 426.2,292.1 427.2,292.2 428.2,294.6 429.2,294.3 430.2,297.0 431.3,297.4 432.3,300.4 433.4,301.6 434.6,301.0 435.8,303.1 436.9,306.5 438.0,307.2 439.2,310.5 440.4,310.9 441.5,312.0 442.7,315.0 443.9,316.9 445.0,317.1 446.2,318.1 447.4,319.9 448.5,322.7 449.6,323.3 450.8,322.8 451.8,323.8 452.8,324.0 453.9,324.5 454.9,327.0 455.9,326.1 456.9,327.7 457.9,327.6 459.0,327.2 460.0,328.9 461.0,327.6 462.1,329.2 463.1,328.1 464.2,328.9 465.4,328.4 466.6,328.6 467.7,329.4 468.9,329.4 470.0,328.8 470.0,329.5" fill="#c8c8c8" stroke="none"/>
<polyline points="380.0,329.1 381.0,329.2 382.1,329.4 383.1,328.8 384.1,328.8 385.2,328.8 386.2,327.7 387.4,328.2 388.5,328.2 389.7,328.4 390.8,326.3 392.0,326.5 393.1,325.7 394.2,327.3 395.2,326.7 396.3,324.8 397.4,326.9 398.5,326.6 399.5,325.1 400.5,324.4 401.6,322.5 402.6,321.5 403.6,322.1 404.6,320.3 405.8,319.3 406.9,318.1 408.1,316.3 409.2,316.1 410.4,314.9 411.5,314.7 412.6,312.7 413.8,311.9 414.8,309.5 415.9,307.8 416.9,305.3 418.1,301.7 419.4,300.5 420.4,299.2 421.5,297.6 422.5,296.0 423.7,294.1 425.0,292.9 426.2,292.1 427.2,292.2 428.2,294.6 429.2,294.3 430.2,297.0 431.3,297.4 432.3,300.4 433.4,301.6 434.6,301.0 435.8,303.1 436.9,306.5 438.0,307.2 439.2,310.5 440.4,310.9 441.5,312.0 442.7,315.0 443.9,316.9 445.0,317.1 446.2,318.1 447.4,319.9 448.5,322.7 449.6,323.3 450.8,322.8 451.8,323.8 452.8,324.0 453.9,324.5 454.9,327.0 455.9,326.1 456.9,327.7 457.9,327.6 459.0,327.2 460.0,328.9 461.0,327.6 462.1,329.2 463.1,328.1 464.2,328.9 465.4,328.4 466.6,328.6 467.7,329.4 468.9,329.4 470.0,328.8" fill="none" stroke="#111" stroke-width="0.85"/>
<polyline points="362.8,317.9 363.1,315.0 364.1,308.9 365.2,301.4 366.2,294.9 367.2,291.7 368.2,287.4 369.2,284.6 370.2,281.8 371.3,279.0 372.3,276.3 373.4,275.6 374.5,273.3 375.7,277.3 376.9,279.9 377.9,284.9 379.0,285.8 380.0,290.8 381.0,292.0 382.1,296.6 383.1,298.8 384.1,301.5 385.2,305.2 386.2,305.7 387.2,308.3 388.2,313.1 389.2,314.6 390.4,315.5 391.5,319.7 392.6,321.5 393.8,321.3 395.0,323.3 396.1,323.7 397.3,325.3 398.5,327.2 399.5,326.4 400.5,328.1 401.6,326.9 402.6,327.5 403.6,329.5 404.6,328.8 405.7,328.9 406.8,329.4 407.8,329.2 408.9,329.0 410.0,328.1" fill="none" stroke="#000" stroke-width="0.9" stroke-linejoin="round" stroke-dasharray="1.3,0.8"/>
<polyline points="363.0,328.4 364.2,328.9 365.4,328.4 366.5,328.3 367.7,326.1 368.9,325.4 370.0,324.4 371.1,323.9 372.3,324.4 373.4,321.3 374.6,320.8 375.8,318.5 376.9,317.2 377.9,316.5 379.0,316.5 380.0,314.9 381.0,312.3 382.1,312.0 383.1,310.6 384.1,311.4 385.1,310.3 386.1,309.2 387.2,308.3 388.2,307.0 389.2,306.6 390.4,304.6 391.5,301.7 392.6,301.6 393.8,299.2 394.8,298.3 395.9,296.3 396.9,294.4 398.5,292.7 399.5,294.9 400.5,296.7 401.5,298.2 402.7,300.8 403.9,301.5 405.0,302.8 406.2,302.8 407.2,303.2 408.2,304.5 409.2,303.7 410.3,305.8 411.3,306.0 412.3,306.1 413.3,307.2 414.4,309.0 415.4,309.4 416.4,310.9 417.5,312.3 418.5,312.8 419.6,313.7 420.8,316.1 422.0,317.0 423.1,318.5 424.2,319.6 425.4,321.2 426.6,321.6 427.7,324.2 428.9,325.9 430.0,325.4 431.1,327.1 432.3,328.6 433.5,326.7 434.6,327.3 435.8,329.4 437.0,329.9 438.0,329.4 439.0,328.2 440.0,328.9 441.0,330.0 442.0,330.1 443.0,329.9 444.0,328.4 445.0,330.1" fill="none" stroke="#000" stroke-width="1.0" stroke-linejoin="round"/>
<polyline points="363.0,328.2 364.0,329.6 365.1,329.4 366.1,330.0 367.1,328.1 368.2,328.0 369.2,329.1 370.2,328.4 371.3,327.0 372.3,327.4 373.3,326.2 374.4,326.6 375.4,324.4 376.5,323.9 377.7,324.9 378.9,322.7 380.0,321.7 381.0,322.3 382.1,321.1 383.1,319.1 384.1,319.4 385.2,318.9 386.2,316.8 387.4,316.2 388.5,312.9 389.6,311.5 390.8,308.9 391.9,307.7 393.1,308.1 394.2,305.1 395.4,305.1 396.5,302.6 397.7,302.1 398.9,301.8 400.0,300.3 401.1,298.7 402.3,299.7 403.5,299.7 404.6,298.4 405.8,297.8 406.9,299.4 408.1,298.1 409.2,296.9 410.4,297.8 411.5,297.4 412.6,299.1 413.8,298.6 414.8,298.8 415.9,301.9 416.9,301.2 418.1,304.8 419.4,307.3 420.4,312.2 421.5,313.6 422.5,316.7 423.6,317.7 424.6,320.7 425.8,322.4 426.9,323.2 428.1,324.1 429.2,325.4 430.4,326.0 431.5,327.2 432.6,326.7 433.8,328.4 435.0,328.0 436.1,329.8 437.3,330.1 438.5,328.1 439.5,328.3 440.6,329.7 441.6,329.4 442.7,328.0 443.7,329.7 444.8,330.3 445.8,329.0 446.9,328.8 447.9,329.4 449.0,330.3 450.0,328.6" fill="none" stroke="#000" stroke-width="2.3" stroke-linejoin="round"/>
<path d="M362.7,265.7H493.4V329.5" stroke="#000" stroke-width="0.9" fill="none"/>
<path d="M362.7,265.2V329.5H493.9" stroke="#000" stroke-width="1.3" fill="none"/>
<path d="M372.5,329.5v1.5M378.3,329.5v1.5M382.4,329.5v1.5M385.5,329.5v1.5M388.1,329.5v1.5M390.3,329.5v1.5M392.2,329.5v1.5M393.9,329.5v1.5M405.2,329.5v1.5M411.0,329.5v1.5M415.0,329.5v1.5M418.2,329.5v1.5M420.8,329.5v1.5M423.0,329.5v1.5M424.9,329.5v1.5M426.6,329.5v1.5M437.9,329.5v1.5M443.6,329.5v1.5M447.7,329.5v1.5M450.9,329.5v1.5M453.5,329.5v1.5M455.7,329.5v1.5M457.6,329.5v1.5M459.2,329.5v1.5M470.6,329.5v1.5M476.3,329.5v1.5M480.4,329.5v1.5M483.6,329.5v1.5M486.2,329.5v1.5M488.3,329.5v1.5M490.2,329.5v1.5M491.9,329.5v1.5M362.7,329.5v2.5M395.4,329.5v2.5M428.0,329.5v2.5M460.7,329.5v2.5M493.4,329.5v2.5" stroke="#000" stroke-width="0.8" fill="none"/>
<text x="361.4" y="340" font-size="6" text-anchor="middle" letter-spacing="-0.3">10</text><text x="365.0" y="337.4" font-size="4.2">0</text>
<text x="394.1" y="340" font-size="6" text-anchor="middle" letter-spacing="-0.3">10</text><text x="397.7" y="337.4" font-size="4.2">1</text>
<text x="426.7" y="340" font-size="6" text-anchor="middle" letter-spacing="-0.3">10</text><text x="430.3" y="337.4" font-size="4.2">2</text>
<text x="459.4" y="340" font-size="6" text-anchor="middle" letter-spacing="-0.3">10</text><text x="463.0" y="337.4" font-size="4.2">3</text>
<text x="492.1" y="340" font-size="6" text-anchor="middle" letter-spacing="-0.3">10</text><text x="495.7" y="337.4" font-size="4.2">4</text>
<text transform="translate(357.5,329.5) rotate(-90)" font-size="6.4" text-anchor="middle" letter-spacing="-0.45">0</text>
<text transform="translate(357.5,316.7) rotate(-90)" font-size="6.4" text-anchor="middle" letter-spacing="-0.45">20</text>
<text transform="translate(357.5,304.0) rotate(-90)" font-size="6.4" text-anchor="middle" letter-spacing="-0.45">40</text>
<text transform="translate(357.5,291.2) rotate(-90)" font-size="6.4" text-anchor="middle" letter-spacing="-0.45">60</text>
<text transform="translate(357.5,278.5) rotate(-90)" font-size="6.4" text-anchor="middle" letter-spacing="-0.45">80</text>
<text transform="translate(357.5,265.7) rotate(-90)" font-size="6.4" text-anchor="middle" letter-spacing="-0.45">100</text>
<path d="M361.2,329.5h1.5M361.2,316.7h1.5M361.2,304.0h1.5M361.2,291.2h1.5M361.2,278.5h1.5M361.2,265.7h1.5M361.7,329.5h1M361.7,326.3h1M361.7,323.1h1M361.7,319.9h1M361.7,316.7h1M361.7,313.6h1M361.7,310.4h1M361.7,307.2h1M361.7,304.0h1M361.7,300.8h1M361.7,297.6h1M361.7,294.4h1M361.7,291.2h1M361.7,288.0h1M361.7,284.8h1M361.7,281.6h1M361.7,278.5h1M361.7,275.3h1M361.7,272.1h1M361.7,268.9h1" stroke="#000" stroke-width="0.8" fill="none"/>
<line x1="352" y1="352.4" x2="496" y2="352.4" stroke="#000" stroke-width="1.6"/>
<polygon points="494.6,348.6 502.5,352.4 494.6,356.2" fill="#000"/>
<text x="404" y="372.2" font-size="12.5" font-weight="bold">HLA-DR</text>
<rect x="36.4" y="393.3" width="146.6" height="145.0" fill="#000"/>
<rect x="187.1" y="393.3" width="146.6" height="145.0" fill="#000"/>
<rect x="337.7" y="393.3" width="146.6" height="145.0" fill="#000"/>
<defs><filter id="gl" x="-20%" y="-20%" width="140%" height="140%"><feGaussianBlur stdDeviation="0.35"/></filter><filter id="sp" x="0" y="0" width="520" height="658" filterUnits="userSpaceOnUse"><feTurbulence type="fractalNoise" baseFrequency="0.45" numOctaves="1" seed="5" result="n"/><feColorMatrix in="n" type="matrix" values="0 0 0 0 0  0 0 0 0 0  0 0 0 0 0  0 0 0 -3.2 2.5" result="m"/><feComposite in="SourceGraphic" in2="m" operator="in" result="c"/><feGaussianBlur in="c" stdDeviation="0.3"/></filter><filter id="sp2" x="0" y="0" width="520" height="658" filterUnits="userSpaceOnUse"><feTurbulence type="fractalNoise" baseFrequency="0.5" numOctaves="1" seed="9" result="n"/><feColorMatrix in="n" type="matrix" values="0 0 0 0 0  0 0 0 0 0  0 0 0 0 0  0 0 0 -3 2.7" result="m"/><feComposite in="SourceGraphic" in2="m" operator="in"/></filter><clipPath id="c1"><rect x="36.4" y="393.3" width="146.6" height="145.0"/></clipPath><clipPath id="c2"><rect x="187.1" y="393.3" width="146.6" height="145.0"/></clipPath><clipPath id="c3"><rect x="337.7" y="393.3" width="146.6" height="145.0"/></clipPath></defs>
<g clip-path="url(#c1)" filter="url(#gl)">
<path d="M58.7,458 C57.8,452 57,444 56.6,436 C56.3,428 56.3,421 56.9,416.4 C58,412 61,409 65,408.7 C69,408.6 72,411 74,415 C76,419 77.3,426 77.5,433 C77.6,441 77.2,450 76.4,458.3 C75.4,464 73.6,471 72.1,476 C71.2,480 70.6,485 69.9,491.8" fill="none" stroke="#c01414" stroke-width="1.3" stroke-opacity="1" stroke-linecap="round" stroke-linejoin="round" filter="url(#sp)"/>
<path d="M58.7,458 C60,462 62,466 63.6,471 C64.6,476 65.2,480 65.6,483.2" fill="none" stroke="#e81818" stroke-width="1.6" stroke-opacity="1" stroke-linecap="round" stroke-linejoin="round"/>
<path d="M62,465.9 C61.5,463 60.5,461.5 59.8,460.8 C58,458.8 56,457.7 53,457 C50,456.3 47,457 44.7,457.9 C42.5,458.7 41,459.4 40.3,460.1 C41,462.5 42,465 43.2,467.3 C44.5,470.5 46,473.5 47.5,476 C49,478.5 50.5,480 51.9,481 C53.5,482.8 55,484.3 56.2,485.3 C58,486.8 59.8,488 61.2,489 C62.5,490 63.7,491 64.8,491.8" fill="none" stroke="#e81818" stroke-width="1.6" stroke-opacity="1" stroke-linecap="round" stroke-linejoin="round"/>
<path d="M84,452.9 C85,452.8 86,452.7 86.6,452.7 C90,452 93,451.6 96.5,451.6 C100,451.8 104,452.3 107.6,452.7 C113,453.4 119,454.5 125.3,454.5 C129,454.3 133,453.4 136.4,452.3 C140,451 144,449.8 147.4,448.7 C151,447.4 155,445.8 158.5,445 C161.5,444.6 164.5,445 167.3,445.6 C170.5,446.1 173.5,446.6 176.2,447.2 C178,447.6 180,448 183,448.4" fill="none" stroke="#e81818" stroke-width="1.5" stroke-opacity="1" stroke-linecap="round" stroke-linejoin="round" filter="url(#sp)"/>
<path d="M79.3,462.3 C79.5,462.8 79.8,463.3 80,463.8 C82,466.5 85,468.8 87.7,470.4 C90.5,472 93.5,473.6 96.5,474.8 C99.5,475.8 102.5,476.6 105.4,477 C108.5,477.5 111.5,478 114.2,478.1 C117.5,477.6 120.5,476.2 123.1,474.8 C125.5,473 127.5,471 129.7,469.3 C132.5,467.6 135.5,466 138.6,464.9 C142,463.6 146,462.7 149.6,462 C154,461.2 158.5,460.7 162.9,460.4 C167,460.3 172,460.4 176.2,460.4 C179,460.4 181.5,460.4 184,460.4" fill="none" stroke="#e81818" stroke-width="1.5" stroke-opacity="1" stroke-linecap="round" stroke-linejoin="round" filter="url(#sp)"/>
<ellipse cx="67" cy="489" rx="4.6" ry="7" fill="#ff1c1c" transform="rotate(-15 67 489)"/>
<path d="M66.3,496 C68,502 70,509 72.1,513.5 C74.5,516.5 77,518.5 79.3,519.2" fill="none" stroke="#ff1c1c" stroke-width="4.6" stroke-opacity="1" stroke-linecap="round" stroke-linejoin="round"/>
<ellipse cx="80.9" cy="503.8" rx="10.8" ry="7.6" fill="none" stroke="#ff1c1c" stroke-width="3.6"/>
<ellipse cx="70.6" cy="503" rx="2.6" ry="6" fill="#ff1c1c"/>
<path d="M79.5,516.3 C80,521 80.8,526.4 81.6,529 C82.6,532.5 84,535.5 86,539" fill="none" stroke="#ff1c1c" stroke-width="5" stroke-opacity="1" stroke-linecap="round" stroke-linejoin="round"/>
<path d="M82.6,515 C86,514.2 89,514.3 91.8,515 C94.3,516 96.3,517.5 97.6,519.2 C99.3,521.5 100.6,524 101.4,526.4 C102.5,529 103.4,531.5 104,533.7 C104.5,535.5 104.8,537 105,539" fill="none" stroke="#ff1c1c" stroke-width="2.4" stroke-opacity="1" stroke-linecap="round" stroke-linejoin="round"/>
<path d="M87,524 C88,528 89.5,532 91,536" fill="none" stroke="#c01414" stroke-width="1" stroke-opacity="1" stroke-linecap="round" stroke-linejoin="round" filter="url(#sp)"/>
<ellipse cx="66" cy="431.4" rx="2.6" ry="2.8" fill="#ff1c1c"/>
<ellipse cx="73.6" cy="436" rx="1.3" ry="2.6" fill="#c01414" transform="rotate(-25 73.6 436)"/>
<ellipse cx="146.8" cy="396" rx="6" ry="2.2" fill="#e81818"/>
<ellipse cx="137.7" cy="418.6" rx="1.6" ry="3.2" fill="#c01414"/>
<ellipse cx="157.8" cy="431.1" rx="4" ry="1.8" fill="#e81818" transform="rotate(20 157.8 431.1)"/>
<circle cx="137" cy="410" r="0.9" fill="#701010"/>
<circle cx="142.9" cy="410.3" r="0.9" fill="#701010"/>
<circle cx="173.4" cy="409" r="0.9" fill="#701010"/>
<circle cx="174.6" cy="417.2" r="0.9" fill="#701010"/>
<circle cx="158.4" cy="419" r="0.9" fill="#701010"/>
<circle cx="150" cy="437" r="0.9" fill="#701010"/>
<circle cx="146" cy="440" r="0.9" fill="#701010"/>
<circle cx="144" cy="401" r="0.9" fill="#701010"/>
<circle cx="170" cy="425" r="0.9" fill="#701010"/>
<circle cx="178" cy="432" r="0.9" fill="#701010"/>
</g>
<rect x="134.2" y="523.7" width="34.7" height="2.2" fill="#fff"/>
<g clip-path="url(#c2)" filter="url(#gl)">
<ellipse cx="220.8" cy="431.4" rx="3" ry="1.1" fill="#b41818"/>
<ellipse cx="224.8" cy="432" rx="1.2" ry="0.9" fill="#b41818"/>
<ellipse cx="228.5" cy="433.8" rx="1.1" ry="1" fill="#b41818"/>
<ellipse cx="229" cy="437.7" rx="1" ry="1" fill="#b41818"/>
<ellipse cx="230.7" cy="446" rx="1.1" ry="1.1" fill="#b41818"/>
<ellipse cx="227.7" cy="448.5" rx="1.1" ry="1" fill="#b41818"/>
<ellipse cx="221.6" cy="449.8" rx="1.2" ry="1" fill="#b41818"/>
<ellipse cx="217.3" cy="448.1" rx="1.2" ry="1" fill="#b41818"/>
<ellipse cx="213.6" cy="437.5" rx="2.2" ry="2.2" fill="#b41818"/>
<ellipse cx="218.2" cy="443.4" rx="0.9" ry="0.9" fill="#b41818"/>
<ellipse cx="212" cy="441" rx="0.8" ry="0.8" fill="#b41818"/>
<path d="M223.1,476.9 C224,472 228,469.5 233,467.7 C238,465.5 243,463 248.5,460.8 C252,459.3 256,458 260.8,457.2 C264.5,456.6 268,456.4 271.5,456.6 C271.8,458 270,461.5 267,464.6 C263.5,468 260,470.3 256.2,472.3 C251,475 246,477.3 240.8,478.5 C235,479.5 229,479.8 225.4,479.2 C223.8,478.8 223,478 223.1,476.9 Z" fill="#e41212" stroke="#ff2020" stroke-width="1"/>
<ellipse cx="241.5" cy="471.6" rx="6.8" ry="2.9" fill="#1a0000" transform="rotate(-20 241.5 471.6)"/>
<path d="M250,463.5 C255,461.5 260,460 265,459.3" stroke="#900000" stroke-width="0.7" fill="none"/>
<circle cx="288.8" cy="503.5" r="10.5" fill="#ee1212" filter="url(#sp2)"/>
<ellipse cx="285.3" cy="507.3" rx="4.2" ry="3.6" fill="#200000"/>
<circle cx="293" cy="498" r="1" fill="#700000"/>
<circle cx="281" cy="500" r="1" fill="#700000"/>
<circle cx="295" cy="507" r="1" fill="#700000"/>
<circle cx="289" cy="512" r="1" fill="#700000"/>
</g>
<g clip-path="url(#c3)" filter="url(#gl)">
<ellipse cx="385.5" cy="445.3" rx="14.5" ry="6.6" fill="none" stroke="#d81212" stroke-width="2.4" transform="rotate(-14 385.5 445.3)" filter="url(#sp)"/>
<path d="M393,437 C398,433.5 405,431.8 412,431.2 C416,431 420,431 422,432.3 C421,436 418.5,440.5 415,444.5 C410,447.5 404,449 398.5,449.3 C396,446 395,441 393,437 Z" fill="#ec1414" filter="url(#sp2)"/>
<path d="M421,432.5 C428,432.2 436,432.5 448,434.5" fill="none" stroke="#c01010" stroke-width="1.6" stroke-opacity="1" stroke-linecap="round" stroke-linejoin="round" filter="url(#sp)"/>
<path d="M364,453 C367,451.5 370,450.5 373,450" fill="none" stroke="#b01010" stroke-width="1.4" stroke-opacity="1" stroke-linecap="round" stroke-linejoin="round" filter="url(#sp)"/>
<circle cx="455" cy="428" r="0.8" fill="#701010"/>
<ellipse cx="432.5" cy="474" rx="8" ry="6.9" fill="none" stroke="#e81212" stroke-width="3.6" filter="url(#sp2)"/>
<circle cx="433.4" cy="474.4" r="1.3" fill="#c01010"/>
<ellipse cx="401" cy="498.4" rx="6.8" ry="8.6" fill="#e81212" filter="url(#sp2)"/>
</g>
<polygon points="80.0,626.0 80.0,625.0 81.2,625.6 82.3,625.2 83.4,624.5 84.6,623.7 85.6,624.4 86.6,624.1 87.7,623.2 88.7,622.9 89.7,622.0 90.7,621.2 91.8,621.6 92.8,621.7 93.8,620.4 95.0,620.6 96.2,618.3 97.3,617.2 98.5,615.6 99.5,615.9 100.5,613.9 101.5,612.6 102.5,610.6 103.6,607.9 104.6,607.0 105.6,606.3 106.7,604.5 107.7,605.1 108.8,600.9 109.8,597.4 111.0,594.9 112.3,589.7 113.3,588.7 114.4,585.2 115.4,582.8 116.4,579.8 117.5,577.5 118.5,574.4 119.5,572.6 120.6,572.6 121.8,575.2 123.1,580.1 124.1,581.1 125.2,584.6 126.2,586.6 127.7,590.9 129.2,595.5 130.2,598.2 131.3,601.6 132.3,603.5 133.3,606.7 134.4,610.0 135.4,611.3 136.4,615.3 137.5,617.8 138.5,619.4 139.5,620.9 140.5,622.6 141.5,624.0 142.5,625.6 143.6,624.8 144.6,624.5 145.7,624.7 146.8,625.8 147.8,625.8 148.9,625.7 150.0,625.8 150.0,626.0" fill="#c8c8c8" stroke="none"/>
<polyline points="80.0,625.0 81.2,625.6 82.3,625.2 83.4,624.5 84.6,623.7 85.6,624.4 86.6,624.1 87.7,623.2 88.7,622.9 89.7,622.0 90.7,621.2 91.8,621.6 92.8,621.7 93.8,620.4 95.0,620.6 96.2,618.3 97.3,617.2 98.5,615.6 99.5,615.9 100.5,613.9 101.5,612.6 102.5,610.6 103.6,607.9 104.6,607.0 105.6,606.3 106.7,604.5 107.7,605.1 108.8,600.9 109.8,597.4 111.0,594.9 112.3,589.7 113.3,588.7 114.4,585.2 115.4,582.8 116.4,579.8 117.5,577.5 118.5,574.4 119.5,572.6 120.6,572.6 121.8,575.2 123.1,580.1 124.1,581.1 125.2,584.6 126.2,586.6 127.7,590.9 129.2,595.5 130.2,598.2 131.3,601.6 132.3,603.5 133.3,606.7 134.4,610.0 135.4,611.3 136.4,615.3 137.5,617.8 138.5,619.4 139.5,620.9 140.5,622.6 141.5,624.0 142.5,625.6 143.6,624.8 144.6,624.5 145.7,624.7 146.8,625.8 147.8,625.8 148.9,625.7 150.0,625.8" fill="none" stroke="#111" stroke-width="0.85"/>
<polyline points="60.0,625.7 61.0,624.0 62.0,623.8 63.1,625.6 64.1,623.9 65.1,623.7 66.1,624.7 67.2,624.0 68.2,625.0 69.2,623.7 70.2,624.6 71.3,622.9 72.3,622.9 73.3,623.0 74.4,622.1 75.4,622.0 76.6,620.4 77.7,618.0 78.8,618.4 80.0,616.7 81.2,614.6 82.3,612.9 83.4,612.6 84.6,610.6 85.8,609.3 86.9,607.1 88.0,605.5 89.2,602.8 90.3,600.8 91.5,598.3 92.7,595.3 93.8,594.4 95.0,590.8 96.2,589.4 97.3,587.4 98.5,584.5 99.5,579.7 100.6,577.1 101.6,577.2 102.6,576.7 103.6,576.8 104.6,578.2 105.6,577.6 106.6,579.7 107.6,579.2 108.6,579.6 109.7,582.5 110.8,586.1 112.3,598.9 113.8,608.4 114.9,612.4 116.0,616.7 117.2,618.5 118.5,621.4 119.5,622.3 120.5,623.1 121.5,624.5 122.6,624.5 123.8,624.0 124.9,626.0 126.0,625.0 127.0,625.2 128.0,625.2 129.0,626.2 130.0,626.3 131.0,625.4 132.0,625.2 133.0,624.7 134.0,626.2 135.0,624.9" fill="none" stroke="#000" stroke-width="0.9" stroke-linejoin="round" stroke-dasharray="2,1.1"/>
<polyline points="33.6,613.8 33.8,622.1 35.4,625.0 36.5,623.4 37.6,624.3 38.7,624.0 39.8,624.1 40.9,623.3 42.0,623.4 43.1,623.8 44.2,623.3 45.3,623.7 46.4,622.7 47.5,622.8 48.6,623.9 49.7,623.2 50.8,623.3 51.8,623.6 52.8,622.7 53.9,622.0 54.9,623.3 55.9,622.7 56.9,622.7 58.0,622.5 59.0,623.0 60.0,621.7 61.1,622.3 62.2,621.3 63.3,621.5 64.4,621.5 65.5,620.6 66.6,619.9 67.7,620.5 68.7,620.5 69.7,619.8 70.8,619.1 71.8,619.1 72.8,617.8 73.8,617.4 74.8,616.7 75.9,616.6 76.9,614.4 77.9,612.7 79.0,611.2 80.0,609.5 81.0,607.9 82.1,606.4 83.1,604.8 84.1,601.8 85.2,599.9 86.2,597.7 87.2,596.2 88.2,595.6 89.2,593.6 90.2,591.5 91.3,589.6 92.3,589.3 93.3,588.0 94.4,587.0 95.4,584.7 96.5,584.8 97.5,585.0 98.8,586.7 100.0,589.7 101.0,589.7 102.1,592.8 103.1,592.6 104.1,594.9 105.2,595.7 106.2,598.7 107.7,601.6 109.0,605.9 110.2,609.4 111.2,612.8 112.3,615.1 113.3,617.7 114.4,618.9 115.4,619.9 116.4,622.1 117.5,622.0 118.5,622.7 119.7,623.0 120.8,624.2 121.9,624.1 123.1,626.0 124.2,626.1 125.4,624.8 126.5,624.6 127.7,625.5 128.8,624.8 130.0,625.6 131.0,626.1 132.0,625.0 133.0,625.3 134.0,626.3 135.0,625.4 136.0,625.2 137.0,626.3 138.0,626.1 139.0,626.3 140.0,625.9 141.0,625.3 142.0,625.9 143.0,626.1 144.0,625.8 145.0,625.0 146.0,625.1 147.0,625.3 148.0,626.0 149.0,625.6 150.0,625.6 151.0,626.1 152.0,624.7 153.0,625.8 154.0,625.2 155.0,625.6 156.0,626.1 157.0,625.0 158.0,626.4 159.0,624.7 160.0,625.6 161.0,625.6 162.0,625.0 163.0,625.6 164.0,625.4 165.0,625.4 166.0,625.9 167.0,624.5 168.0,625.3 169.0,626.0" fill="none" stroke="#000" stroke-width="2.3" stroke-linejoin="round"/>
<rect x="32.8" y="562.6" width="136.7" height="63.39999999999998" fill="none" stroke="#000" stroke-width="1"/>
<path d="M32.8,562.6V626.0H169.5" stroke="#000" stroke-width="2.2" fill="none"/>
<path d="M28.6,626.00h4.2M28.6,618.08h4.2M28.6,610.15h4.2M28.6,602.23h4.2M28.6,594.30h4.2M28.6,586.38h4.2M28.6,578.45h4.2M28.6,570.52h4.2M28.6,562.60h4.2M30.4,622.04h2.4M30.4,614.11h2.4M30.4,606.19h2.4M30.4,598.26h2.4M30.4,590.34h2.4M30.4,582.41h2.4M30.4,574.49h2.4M30.4,566.56h2.4" stroke="#000" stroke-width="1.9"/>
<path d="M43.1,626.0v1.8M49.1,626.0v1.8M53.4,626.0v1.8M56.7,626.0v1.8M59.4,626.0v1.8M61.7,626.0v1.8M63.7,626.0v1.8M65.4,626.0v1.8M77.3,626.0v1.8M83.3,626.0v1.8M87.6,626.0v1.8M90.9,626.0v1.8M93.6,626.0v1.8M95.9,626.0v1.8M97.8,626.0v1.8M99.6,626.0v1.8M111.4,626.0v1.8M117.5,626.0v1.8M121.7,626.0v1.8M125.0,626.0v1.8M127.7,626.0v1.8M130.0,626.0v1.8M132.0,626.0v1.8M133.8,626.0v1.8M145.6,626.0v1.8M151.6,626.0v1.8M155.9,626.0v1.8M159.2,626.0v1.8M161.9,626.0v1.8M164.2,626.0v1.8M166.2,626.0v1.8M167.9,626.0v1.8M32.8,626.0v5.5M67.0,626.0v5.5M101.1,626.0v5.5M135.3,626.0v5.5M169.5,626.0v5.5" stroke="#000" stroke-width="1"/>
<text x="32.4" y="640.1" font-size="5.6" text-anchor="middle" letter-spacing="-0.3">10</text><text x="35.2" y="637.5" font-size="4.2">0</text>
<text x="66.6" y="640.1" font-size="5.6" text-anchor="middle" letter-spacing="-0.3">10</text><text x="69.4" y="637.5" font-size="4.2">1</text>
<text x="100.7" y="640.1" font-size="5.6" text-anchor="middle" letter-spacing="-0.3">10</text><text x="103.5" y="637.5" font-size="4.2">2</text>
<text x="134.9" y="640.1" font-size="5.6" text-anchor="middle" letter-spacing="-0.3">10</text><text x="137.7" y="637.5" font-size="4.2">3</text>
<text x="169.1" y="640.1" font-size="5.6" text-anchor="middle" letter-spacing="-0.3">10</text><text x="171.9" y="637.5" font-size="4.2">4</text>
<text transform="translate(24.6,563.1) rotate(-90)" font-size="6" text-anchor="middle">80</text>
<text transform="translate(24.6,626.0) rotate(-90)" font-size="6" text-anchor="middle">0</text>
<text x="129.0" y="580.5" font-size="11.8" font-weight="bold">CD86</text>
<polygon points="205.0,626.6 205.0,624.9 206.0,624.9 207.0,625.3 208.0,625.0 209.0,622.9 210.0,622.0 211.0,621.4 212.2,621.4 213.4,618.9 214.6,619.0 215.7,617.7 216.9,615.4 218.0,615.1 219.4,613.9 220.8,612.8 221.9,613.1 222.9,610.1 224.0,608.9 225.0,610.5 226.0,608.8 227.0,607.8 228.0,607.6 229.0,607.2 230.0,608.0 231.0,606.2 232.0,606.0 233.0,606.7 234.0,606.9 235.0,608.2 236.0,608.3 237.1,607.5 238.1,607.5 239.2,609.3 240.6,609.3 242.0,606.9 243.1,608.9 244.3,609.6 245.4,609.5 246.7,608.7 248.0,610.2 249.2,610.4 250.3,609.7 251.5,611.1 252.8,610.0 254.0,609.5 255.2,610.5 256.5,610.8 257.7,611.3 258.9,611.8 260.0,612.3 261.3,613.0 262.5,613.6 263.8,614.1 264.9,613.9 265.9,613.1 267.0,613.1 268.3,614.8 269.5,615.4 270.8,616.4 271.9,614.6 273.0,614.3 274.2,615.7 275.4,614.8 276.4,614.8 277.5,613.2 278.5,613.6 279.8,615.3 281.0,615.3 282.0,616.3 283.0,614.7 284.0,615.7 285.0,616.9 286.0,616.5 287.0,617.6 288.0,618.1 289.0,618.1 290.0,619.1 291.0,621.8 292.0,620.7 293.0,621.6 294.0,622.5 295.0,623.9 296.0,624.8 297.0,624.5 298.3,625.1 299.5,626.2 300.8,625.5 301.8,625.7 302.8,626.3 303.9,626.3 304.9,625.1 305.9,625.2 306.9,625.3 308.0,626.3 309.0,626.3 310.0,626.3 310.0,626.6" fill="#c8c8c8" stroke="none"/>
<polyline points="205.0,624.9 206.0,624.9 207.0,625.3 208.0,625.0 209.0,622.9 210.0,622.0 211.0,621.4 212.2,621.4 213.4,618.9 214.6,619.0 215.7,617.7 216.9,615.4 218.0,615.1 219.4,613.9 220.8,612.8 221.9,613.1 222.9,610.1 224.0,608.9 225.0,610.5 226.0,608.8 227.0,607.8 228.0,607.6 229.0,607.2 230.0,608.0 231.0,606.2 232.0,606.0 233.0,606.7 234.0,606.9 235.0,608.2 236.0,608.3 237.1,607.5 238.1,607.5 239.2,609.3 240.6,609.3 242.0,606.9 243.1,608.9 244.3,609.6 245.4,609.5 246.7,608.7 248.0,610.2 249.2,610.4 250.3,609.7 251.5,611.1 252.8,610.0 254.0,609.5 255.2,610.5 256.5,610.8 257.7,611.3 258.9,611.8 260.0,612.3 261.3,613.0 262.5,613.6 263.8,614.1 264.9,613.9 265.9,613.1 267.0,613.1 268.3,614.8 269.5,615.4 270.8,616.4 271.9,614.6 273.0,614.3 274.2,615.7 275.4,614.8 276.4,614.8 277.5,613.2 278.5,613.6 279.8,615.3 281.0,615.3 282.0,616.3 283.0,614.7 284.0,615.7 285.0,616.9 286.0,616.5 287.0,617.6 288.0,618.1 289.0,618.1 290.0,619.1 291.0,621.8 292.0,620.7 293.0,621.6 294.0,622.5 295.0,623.9 296.0,624.8 297.0,624.5 298.3,625.1 299.5,626.2 300.8,625.5 301.8,625.7 302.8,626.3 303.9,626.3 304.9,625.1 305.9,625.2 306.9,625.3 308.0,626.3 309.0,626.3 310.0,626.3" fill="none" stroke="#111" stroke-width="0.85"/>
<polyline points="199.0,621.2 200.0,621.7 201.0,622.1 202.0,623.5 203.0,623.0 204.0,623.0 205.0,621.4 206.0,621.8 207.0,622.1 208.0,621.0 209.0,621.1 210.0,620.2 211.0,618.5 212.0,617.0 213.0,616.8 214.0,613.9 215.0,612.1 216.3,609.9 217.7,606.7 218.8,605.3 219.9,604.2 221.0,601.4 222.4,599.4 223.8,597.8 224.9,597.9 225.9,594.8 227.0,593.3 228.0,592.0 229.0,591.0 230.0,589.9 231.0,589.5 232.0,588.1 233.0,587.3 234.0,587.4 235.0,584.9 236.5,588.6 237.7,592.8 239.0,596.1 240.8,601.6 241.8,603.5 242.8,604.7 243.8,605.5 244.9,607.3 245.9,608.8 247.0,610.8 248.0,613.3 249.0,613.5 250.0,614.2 251.0,616.0 252.0,617.6 253.0,617.9 254.0,619.4 255.0,619.0 256.0,619.7 257.0,621.6 258.0,621.1 259.0,622.1 260.0,622.8 261.0,622.9 262.0,623.1 263.0,623.6 264.0,625.5 265.0,625.1 266.0,625.8 267.0,625.1 268.0,626.1 269.0,626.1 270.0,625.7" fill="none" stroke="#000" stroke-width="0.9" stroke-linejoin="round" stroke-dasharray="2,1.1"/>
<polyline points="198.5,611.1 199.5,620.3 200.8,623.6 202.0,622.8 203.1,623.8 204.2,624.5 205.4,624.8 206.7,622.9 208.0,623.3 209.2,622.5 210.3,621.5 211.5,621.7 212.8,619.5 214.0,617.9 215.2,617.5 216.5,615.5 217.7,613.4 218.8,612.7 220.0,612.3 221.2,610.7 222.3,611.0 223.7,609.4 225.0,606.9 226.0,606.5 227.0,605.4 228.0,602.2 229.0,599.9 230.0,596.3 231.0,594.1 232.0,593.8 233.0,590.4 234.1,589.2 235.1,589.5 236.2,588.2 238.0,587.8 239.0,588.9 240.0,589.5 241.2,591.9 242.3,593.7 243.3,594.4 244.4,593.7 245.4,593.6 246.4,594.5 247.5,595.7 248.5,596.8 249.5,600.7 250.5,602.8 251.5,604.7 252.5,605.3 253.6,606.9 254.6,608.3 255.6,610.2 256.7,611.4 257.7,613.4 258.9,614.6 260.0,615.9 261.1,618.1 262.3,619.1 263.5,619.9 264.6,620.5 265.8,622.0 267.0,623.5 268.1,623.0 269.2,623.0 270.5,624.3 271.7,624.7 273.0,626.0 274.0,624.8 275.0,626.2 276.0,624.6 277.0,625.6 278.0,625.4 279.0,625.2 280.0,626.3 281.0,625.9 282.0,624.9 283.0,625.5 284.0,625.8 285.0,624.7 286.0,624.8 287.0,625.8 288.0,626.0 289.0,625.5 290.0,625.4 291.0,625.6 292.0,625.1 293.0,626.3 294.0,626.5 295.0,625.6 296.0,624.7 297.0,625.4 298.0,626.2 299.0,625.3 300.0,624.9 301.0,625.0 302.0,626.0 303.0,625.9 304.0,625.2 305.0,625.9 306.0,626.2 307.0,626.6 308.0,626.3 309.0,625.6 310.0,626.3 311.0,626.5 312.0,626.4 313.0,626.2 314.0,625.9 315.0,625.7 316.0,626.4 317.0,626.0 318.0,626.1 319.0,625.2 320.0,624.9 321.0,625.3 322.0,625.9 323.0,625.9 324.0,625.2 325.0,625.2 326.0,626.6 327.0,624.9 328.0,626.6 329.0,626.3 330.0,625.9 331.0,626.7 332.0,626.1 333.0,624.8 334.0,626.6" fill="none" stroke="#000" stroke-width="2.3" stroke-linejoin="round"/>
<rect x="198.1" y="562.8" width="136.6" height="63.80000000000007" fill="none" stroke="#000" stroke-width="1"/>
<path d="M198.1,562.8V626.6H334.7" stroke="#000" stroke-width="2.2" fill="none"/>
<path d="M193.9,626.60h4.2M193.9,618.62h4.2M193.9,610.65h4.2M193.9,602.67h4.2M193.9,594.70h4.2M193.9,586.73h4.2M193.9,578.75h4.2M193.9,570.77h4.2M193.9,562.80h4.2M195.7,622.61h2.4M195.7,614.64h2.4M195.7,606.66h2.4M195.7,598.69h2.4M195.7,590.71h2.4M195.7,582.74h2.4M195.7,574.76h2.4M195.7,566.79h2.4" stroke="#000" stroke-width="1.9"/>
<path d="M208.4,626.6v1.8M214.4,626.6v1.8M218.7,626.6v1.8M222.0,626.6v1.8M224.7,626.6v1.8M227.0,626.6v1.8M228.9,626.6v1.8M230.7,626.6v1.8M242.5,626.6v1.8M248.5,626.6v1.8M252.8,626.6v1.8M256.1,626.6v1.8M258.8,626.6v1.8M261.1,626.6v1.8M263.1,626.6v1.8M264.8,626.6v1.8M276.7,626.6v1.8M282.7,626.6v1.8M287.0,626.6v1.8M290.3,626.6v1.8M293.0,626.6v1.8M295.3,626.6v1.8M297.2,626.6v1.8M299.0,626.6v1.8M310.8,626.6v1.8M316.8,626.6v1.8M321.1,626.6v1.8M324.4,626.6v1.8M327.1,626.6v1.8M329.4,626.6v1.8M331.4,626.6v1.8M333.1,626.6v1.8M198.1,626.6v5.5M232.2,626.6v5.5M266.4,626.6v5.5M300.5,626.6v5.5M334.7,626.6v5.5" stroke="#000" stroke-width="1"/>
<text x="197.7" y="640.1" font-size="5.6" text-anchor="middle" letter-spacing="-0.3">10</text><text x="200.5" y="637.5" font-size="4.2">0</text>
<text x="231.8" y="640.1" font-size="5.6" text-anchor="middle" letter-spacing="-0.3">10</text><text x="234.7" y="637.5" font-size="4.2">1</text>
<text x="266.0" y="640.1" font-size="5.6" text-anchor="middle" letter-spacing="-0.3">10</text><text x="268.8" y="637.5" font-size="4.2">2</text>
<text x="300.1" y="640.1" font-size="5.6" text-anchor="middle" letter-spacing="-0.3">10</text><text x="302.9" y="637.5" font-size="4.2">3</text>
<text x="334.3" y="640.1" font-size="5.6" text-anchor="middle" letter-spacing="-0.3">10</text><text x="337.1" y="637.5" font-size="4.2">4</text>
<text transform="translate(189.6,563.3) rotate(-90)" font-size="6" text-anchor="middle">80</text>
<text transform="translate(189.6,626.6) rotate(-90)" font-size="6" text-anchor="middle">0</text>
<text x="294.6" y="580.5" font-size="11.8" font-weight="bold">CD80</text>
<polygon points="367.3,627.0 367.3,625.8 368.3,624.7 369.4,623.9 370.4,624.5 371.4,623.1 372.5,622.6 373.5,621.6 374.6,620.2 375.8,619.7 376.9,618.3 378.0,617.5 379.2,615.0 380.4,613.0 381.5,609.9 382.7,607.0 383.7,604.0 384.8,602.0 385.8,597.9 386.9,594.1 388.0,589.4 389.2,584.5 390.4,582.0 392.0,572.9 393.5,570.7 395.0,572.2 396.5,569.5 397.6,573.9 398.8,577.4 400.0,580.9 401.2,586.5 402.2,589.1 403.2,594.2 404.2,597.4 405.2,600.9 406.3,602.1 407.3,605.7 408.3,609.4 409.4,612.5 410.4,614.8 411.4,618.2 412.5,620.1 413.5,621.1 414.5,621.9 415.5,623.9 416.5,624.4 417.5,625.4 418.6,625.5 419.6,625.8 420.7,625.2 421.8,625.5 422.8,626.2 423.9,626.6 425.0,626.4 425.0,627.0" fill="#c8c8c8" stroke="none"/>
<polyline points="367.3,625.8 368.3,624.7 369.4,623.9 370.4,624.5 371.4,623.1 372.5,622.6 373.5,621.6 374.6,620.2 375.8,619.7 376.9,618.3 378.0,617.5 379.2,615.0 380.4,613.0 381.5,609.9 382.7,607.0 383.7,604.0 384.8,602.0 385.8,597.9 386.9,594.1 388.0,589.4 389.2,584.5 390.4,582.0 392.0,572.9 393.5,570.7 395.0,572.2 396.5,569.5 397.6,573.9 398.8,577.4 400.0,580.9 401.2,586.5 402.2,589.1 403.2,594.2 404.2,597.4 405.2,600.9 406.3,602.1 407.3,605.7 408.3,609.4 409.4,612.5 410.4,614.8 411.4,618.2 412.5,620.1 413.5,621.1 414.5,621.9 415.5,623.9 416.5,624.4 417.5,625.4 418.6,625.5 419.6,625.8 420.7,625.2 421.8,625.5 422.8,626.2 423.9,626.6 425.0,626.4" fill="none" stroke="#111" stroke-width="0.85"/>
<polyline points="362.0,624.2 363.1,620.5 364.2,618.1 365.2,613.9 366.3,610.5 367.3,606.3 368.3,602.6 369.4,597.2 370.4,593.7 371.5,588.4 372.7,584.1 374.0,583.3 375.2,581.3 376.5,580.3 377.7,580.3 378.9,579.3 380.0,578.0 381.2,577.8 382.5,577.4 383.7,575.4 385.0,575.9 386.0,576.8 387.0,577.2 388.0,577.9 389.2,586.1 390.4,592.0 391.4,595.7 392.5,599.9 393.5,605.2 394.5,608.4 395.5,612.3 396.5,615.8 397.5,617.5 398.6,620.2 399.6,621.3 400.6,622.6 401.7,624.1 402.7,624.8 403.8,625.5 404.9,625.4 405.9,626.0 407.0,625.3" fill="none" stroke="#000" stroke-width="0.9" stroke-linejoin="round" stroke-dasharray="2,1.1"/>
<polyline points="361.2,582.3 361.6,623.3 362.7,622.4 364.0,621.9 365.2,621.3 366.5,620.5 367.8,617.4 369.1,614.9 370.4,611.5 371.7,609.6 372.9,607.0 374.2,605.2 375.4,603.5 376.5,602.7 377.5,599.9 378.6,597.2 379.6,596.0 380.6,593.6 381.7,590.6 382.7,587.9 383.7,586.2 384.8,583.8 385.8,581.9 386.8,579.4 387.8,576.9 388.8,574.7 390.0,576.7 391.2,578.5 392.4,581.9 393.5,586.7 394.5,589.9 395.5,592.5 396.5,596.8 397.5,599.0 398.6,601.2 399.6,605.2 400.6,607.8 401.7,611.4 402.7,614.1 403.7,615.7 404.8,619.1 405.8,622.0 406.8,623.4 407.8,623.8 408.8,625.4 409.8,625.8 410.9,625.1 411.9,626.3 412.9,626.2 414.0,625.2 415.0,626.1 416.0,625.8 417.0,625.5 418.0,626.2 419.0,626.8 420.0,626.1 421.0,625.4 422.0,626.0 423.0,626.5 424.0,626.8 425.0,626.4 426.0,625.3 427.0,626.8 428.0,626.2 429.0,625.4 430.0,625.4 431.0,625.4 432.0,626.3 433.0,625.5 434.0,626.5 435.0,625.4 436.0,626.1 437.0,626.0 438.0,625.3 439.0,625.3 440.0,626.7 441.0,626.8 442.0,625.5 443.0,626.5 444.0,626.9 445.0,626.7 446.0,626.7 447.0,625.8 448.0,626.4 449.0,626.1 450.0,626.8 451.0,626.4 452.0,626.6 453.0,626.7 454.0,625.9 455.0,626.4 456.0,625.5 457.0,625.6 458.0,626.8 459.0,626.0 460.0,626.4 461.0,626.2 462.0,625.7 463.0,626.3 464.0,626.8 465.0,625.9 466.0,625.9 467.0,625.6 468.0,625.6 469.0,626.7 470.0,626.5 471.0,626.9 472.0,626.4 473.0,626.9 474.0,625.7 475.0,625.7 476.0,625.7 477.0,626.0 478.0,627.0 479.0,625.7 480.0,626.1 481.0,625.5 482.0,625.4 483.0,626.3 484.0,626.4 485.0,626.2 486.0,626.9 487.0,626.8 488.0,626.9 489.0,626.3 490.0,625.8" fill="none" stroke="#000" stroke-width="2.3" stroke-linejoin="round"/>
<rect x="359.9" y="562.4" width="131.60000000000002" height="64.60000000000002" fill="none" stroke="#000" stroke-width="1"/>
<path d="M359.9,562.4V627.0H491.5" stroke="#000" stroke-width="2.2" fill="none"/>
<path d="M355.7,627.00h4.2M355.7,618.92h4.2M355.7,610.85h4.2M355.7,602.77h4.2M355.7,594.70h4.2M355.7,586.62h4.2M355.7,578.55h4.2M355.7,570.48h4.2M355.7,562.40h4.2M357.5,622.96h2.4M357.5,614.89h2.4M357.5,606.81h2.4M357.5,598.74h2.4M357.5,590.66h2.4M357.5,582.59h2.4M357.5,574.51h2.4M357.5,566.44h2.4" stroke="#000" stroke-width="1.9"/>
<path d="M369.8,627.0v1.8M375.6,627.0v1.8M379.7,627.0v1.8M382.9,627.0v1.8M385.5,627.0v1.8M387.7,627.0v1.8M389.6,627.0v1.8M391.3,627.0v1.8M402.7,627.0v1.8M408.5,627.0v1.8M412.6,627.0v1.8M415.8,627.0v1.8M418.4,627.0v1.8M420.6,627.0v1.8M422.5,627.0v1.8M424.2,627.0v1.8M435.6,627.0v1.8M441.4,627.0v1.8M445.5,627.0v1.8M448.7,627.0v1.8M451.3,627.0v1.8M453.5,627.0v1.8M455.4,627.0v1.8M457.1,627.0v1.8M468.5,627.0v1.8M474.3,627.0v1.8M478.4,627.0v1.8M481.6,627.0v1.8M484.2,627.0v1.8M486.4,627.0v1.8M488.3,627.0v1.8M490.0,627.0v1.8M359.9,627.0v5.5M392.8,627.0v5.5M425.7,627.0v5.5M458.6,627.0v5.5M491.5,627.0v5.5" stroke="#000" stroke-width="1"/>
<text x="359.5" y="640.1" font-size="5.6" text-anchor="middle" letter-spacing="-0.3">10</text><text x="362.3" y="637.5" font-size="4.2">0</text>
<text x="392.4" y="640.1" font-size="5.6" text-anchor="middle" letter-spacing="-0.3">10</text><text x="395.2" y="637.5" font-size="4.2">1</text>
<text x="425.3" y="640.1" font-size="5.6" text-anchor="middle" letter-spacing="-0.3">10</text><text x="428.1" y="637.5" font-size="4.2">2</text>
<text x="458.2" y="640.1" font-size="5.6" text-anchor="middle" letter-spacing="-0.3">10</text><text x="461.0" y="637.5" font-size="4.2">3</text>
<text x="491.1" y="640.1" font-size="5.6" text-anchor="middle" letter-spacing="-0.3">10</text><text x="493.9" y="637.5" font-size="4.2">4</text>
<text transform="translate(353,562.9) rotate(-90)" font-size="6" text-anchor="middle">80</text>
<text transform="translate(353,627.0) rotate(-90)" font-size="6" text-anchor="middle">0</text>
<text x="450.8" y="580.5" font-size="11.8" font-weight="bold">CD40</text>
<rect x="357.6" y="592.5" width="4.2" height="34.5" fill="#000"/>
</svg></body></html>
